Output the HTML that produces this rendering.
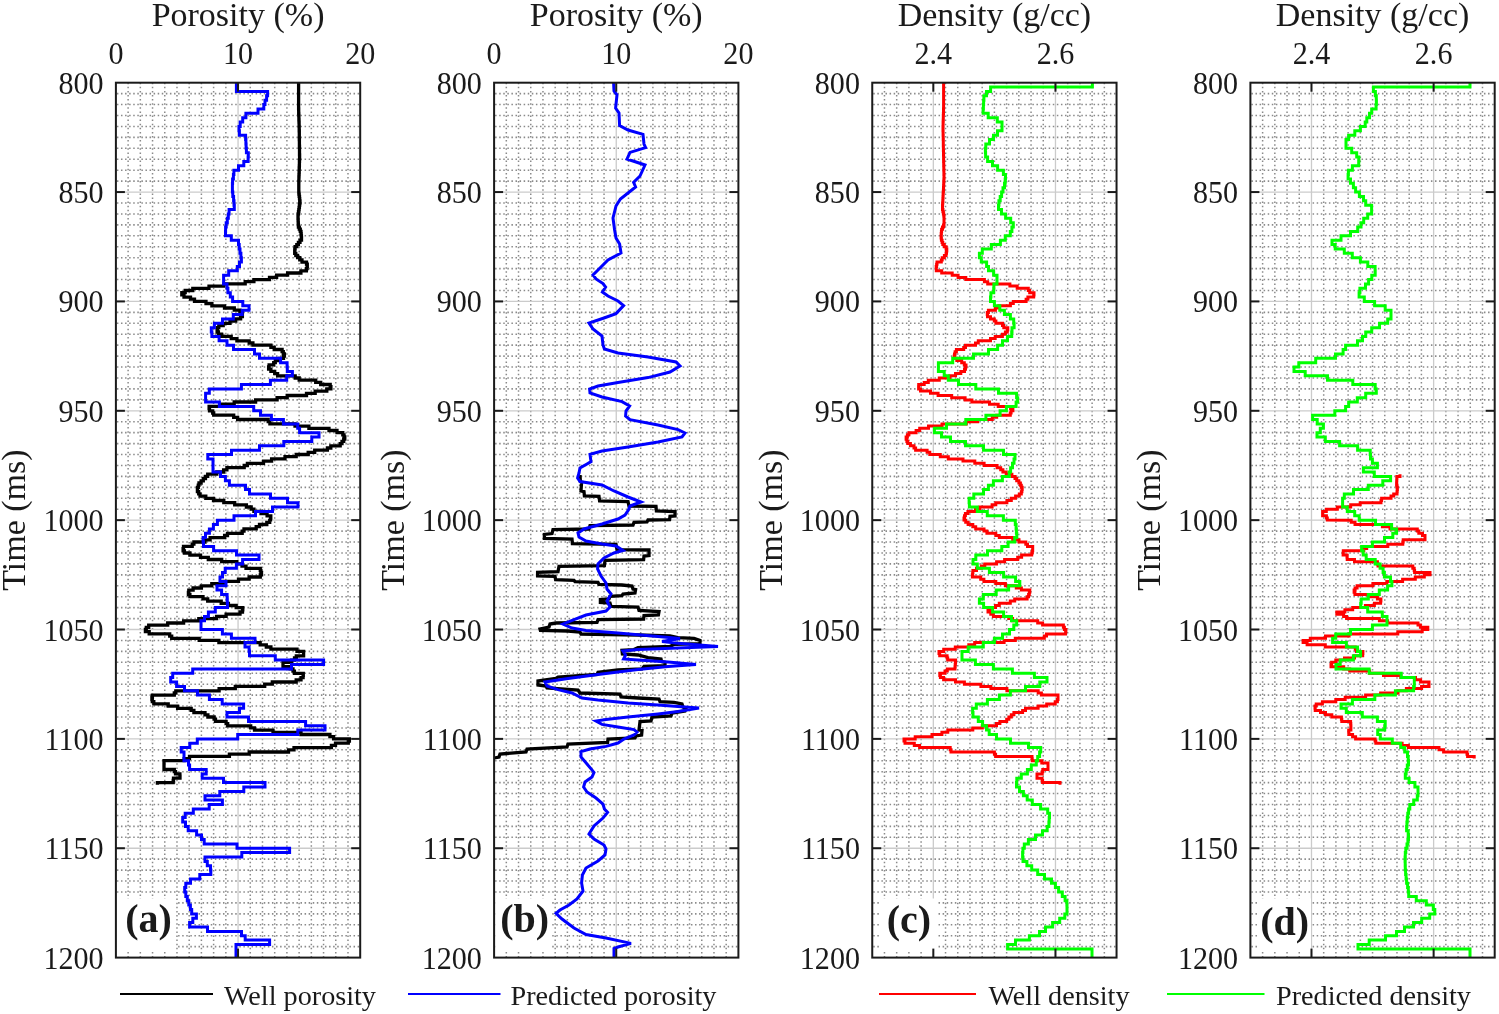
<!DOCTYPE html><html><head><meta charset="utf-8"><title>Figure</title><style>html,body{margin:0;padding:0;background:#fff}svg{display:block}text{font-family:"Liberation Serif",serif;fill:#1a1a1a}</style></head><body>
<svg width="1499" height="1014" viewBox="0 0 1499 1014">
<rect width="1499" height="1014" fill="#fff"/>
<g><line x1="128.12" y1="82.7" x2="128.12" y2="957.6" stroke="#8a8a8a" stroke-width="1.5" stroke-dasharray="1.5 2.6"/><line x1="140.33" y1="82.7" x2="140.33" y2="957.6" stroke="#8a8a8a" stroke-width="1.5" stroke-dasharray="1.5 2.6"/><line x1="152.55" y1="82.7" x2="152.55" y2="957.6" stroke="#8a8a8a" stroke-width="1.5" stroke-dasharray="1.5 2.6"/><line x1="164.76" y1="82.7" x2="164.76" y2="957.6" stroke="#8a8a8a" stroke-width="1.5" stroke-dasharray="1.5 2.6"/><line x1="176.98" y1="82.7" x2="176.98" y2="957.6" stroke="#8a8a8a" stroke-width="1.5" stroke-dasharray="1.5 2.6"/><line x1="189.19" y1="82.7" x2="189.19" y2="957.6" stroke="#8a8a8a" stroke-width="1.5" stroke-dasharray="1.5 2.6"/><line x1="201.41" y1="82.7" x2="201.41" y2="957.6" stroke="#8a8a8a" stroke-width="1.5" stroke-dasharray="1.5 2.6"/><line x1="213.62" y1="82.7" x2="213.62" y2="957.6" stroke="#8a8a8a" stroke-width="1.5" stroke-dasharray="1.5 2.6"/><line x1="225.84" y1="82.7" x2="225.84" y2="957.6" stroke="#8a8a8a" stroke-width="1.5" stroke-dasharray="1.5 2.6"/><line x1="238.05" y1="82.7" x2="238.05" y2="957.6" stroke="#cbcbcb" stroke-width="1.3"/><line x1="250.27" y1="82.7" x2="250.27" y2="957.6" stroke="#8a8a8a" stroke-width="1.5" stroke-dasharray="1.5 2.6"/><line x1="262.48" y1="82.7" x2="262.48" y2="957.6" stroke="#8a8a8a" stroke-width="1.5" stroke-dasharray="1.5 2.6"/><line x1="274.70" y1="82.7" x2="274.70" y2="957.6" stroke="#8a8a8a" stroke-width="1.5" stroke-dasharray="1.5 2.6"/><line x1="286.91" y1="82.7" x2="286.91" y2="957.6" stroke="#8a8a8a" stroke-width="1.5" stroke-dasharray="1.5 2.6"/><line x1="299.12" y1="82.7" x2="299.12" y2="957.6" stroke="#8a8a8a" stroke-width="1.5" stroke-dasharray="1.5 2.6"/><line x1="311.34" y1="82.7" x2="311.34" y2="957.6" stroke="#8a8a8a" stroke-width="1.5" stroke-dasharray="1.5 2.6"/><line x1="323.56" y1="82.7" x2="323.56" y2="957.6" stroke="#8a8a8a" stroke-width="1.5" stroke-dasharray="1.5 2.6"/><line x1="335.77" y1="82.7" x2="335.77" y2="957.6" stroke="#8a8a8a" stroke-width="1.5" stroke-dasharray="1.5 2.6"/><line x1="347.99" y1="82.7" x2="347.99" y2="957.6" stroke="#8a8a8a" stroke-width="1.5" stroke-dasharray="1.5 2.6"/><line x1="116.9" y1="93.64" x2="360.20000000000005" y2="93.64" stroke="#8a8a8a" stroke-width="1.6" stroke-dasharray="1.5 2.58"/><line x1="116.9" y1="104.57" x2="360.20000000000005" y2="104.57" stroke="#8a8a8a" stroke-width="1.6" stroke-dasharray="1.5 2.58"/><line x1="116.9" y1="115.51" x2="360.20000000000005" y2="115.51" stroke="#8a8a8a" stroke-width="1.6" stroke-dasharray="1.5 2.58"/><line x1="116.9" y1="126.44" x2="360.20000000000005" y2="126.44" stroke="#8a8a8a" stroke-width="1.6" stroke-dasharray="1.5 2.58"/><line x1="116.9" y1="137.38" x2="360.20000000000005" y2="137.38" stroke="#8a8a8a" stroke-width="1.6" stroke-dasharray="1.5 2.58"/><line x1="116.9" y1="148.32" x2="360.20000000000005" y2="148.32" stroke="#8a8a8a" stroke-width="1.6" stroke-dasharray="1.5 2.58"/><line x1="116.9" y1="159.25" x2="360.20000000000005" y2="159.25" stroke="#8a8a8a" stroke-width="1.6" stroke-dasharray="1.5 2.58"/><line x1="116.9" y1="170.19" x2="360.20000000000005" y2="170.19" stroke="#8a8a8a" stroke-width="1.6" stroke-dasharray="1.5 2.58"/><line x1="116.9" y1="181.13" x2="360.20000000000005" y2="181.13" stroke="#8a8a8a" stroke-width="1.6" stroke-dasharray="1.5 2.58"/><line x1="115.9" y1="192.06" x2="360.20000000000005" y2="192.06" stroke="#cbcbcb" stroke-width="1.3"/><line x1="116.9" y1="203.00" x2="360.20000000000005" y2="203.00" stroke="#8a8a8a" stroke-width="1.6" stroke-dasharray="1.5 2.58"/><line x1="116.9" y1="213.94" x2="360.20000000000005" y2="213.94" stroke="#8a8a8a" stroke-width="1.6" stroke-dasharray="1.5 2.58"/><line x1="116.9" y1="224.87" x2="360.20000000000005" y2="224.87" stroke="#8a8a8a" stroke-width="1.6" stroke-dasharray="1.5 2.58"/><line x1="116.9" y1="235.81" x2="360.20000000000005" y2="235.81" stroke="#8a8a8a" stroke-width="1.6" stroke-dasharray="1.5 2.58"/><line x1="116.9" y1="246.74" x2="360.20000000000005" y2="246.74" stroke="#8a8a8a" stroke-width="1.6" stroke-dasharray="1.5 2.58"/><line x1="116.9" y1="257.68" x2="360.20000000000005" y2="257.68" stroke="#8a8a8a" stroke-width="1.6" stroke-dasharray="1.5 2.58"/><line x1="116.9" y1="268.62" x2="360.20000000000005" y2="268.62" stroke="#8a8a8a" stroke-width="1.6" stroke-dasharray="1.5 2.58"/><line x1="116.9" y1="279.55" x2="360.20000000000005" y2="279.55" stroke="#8a8a8a" stroke-width="1.6" stroke-dasharray="1.5 2.58"/><line x1="116.9" y1="290.49" x2="360.20000000000005" y2="290.49" stroke="#8a8a8a" stroke-width="1.6" stroke-dasharray="1.5 2.58"/><line x1="115.9" y1="301.43" x2="360.20000000000005" y2="301.43" stroke="#cbcbcb" stroke-width="1.3"/><line x1="116.9" y1="312.36" x2="360.20000000000005" y2="312.36" stroke="#8a8a8a" stroke-width="1.6" stroke-dasharray="1.5 2.58"/><line x1="116.9" y1="323.30" x2="360.20000000000005" y2="323.30" stroke="#8a8a8a" stroke-width="1.6" stroke-dasharray="1.5 2.58"/><line x1="116.9" y1="334.23" x2="360.20000000000005" y2="334.23" stroke="#8a8a8a" stroke-width="1.6" stroke-dasharray="1.5 2.58"/><line x1="116.9" y1="345.17" x2="360.20000000000005" y2="345.17" stroke="#8a8a8a" stroke-width="1.6" stroke-dasharray="1.5 2.58"/><line x1="116.9" y1="356.11" x2="360.20000000000005" y2="356.11" stroke="#8a8a8a" stroke-width="1.6" stroke-dasharray="1.5 2.58"/><line x1="116.9" y1="367.04" x2="360.20000000000005" y2="367.04" stroke="#8a8a8a" stroke-width="1.6" stroke-dasharray="1.5 2.58"/><line x1="116.9" y1="377.98" x2="360.20000000000005" y2="377.98" stroke="#8a8a8a" stroke-width="1.6" stroke-dasharray="1.5 2.58"/><line x1="116.9" y1="388.92" x2="360.20000000000005" y2="388.92" stroke="#8a8a8a" stroke-width="1.6" stroke-dasharray="1.5 2.58"/><line x1="116.9" y1="399.85" x2="360.20000000000005" y2="399.85" stroke="#8a8a8a" stroke-width="1.6" stroke-dasharray="1.5 2.58"/><line x1="115.9" y1="410.79" x2="360.20000000000005" y2="410.79" stroke="#cbcbcb" stroke-width="1.3"/><line x1="116.9" y1="421.72" x2="360.20000000000005" y2="421.72" stroke="#8a8a8a" stroke-width="1.6" stroke-dasharray="1.5 2.58"/><line x1="116.9" y1="432.66" x2="360.20000000000005" y2="432.66" stroke="#8a8a8a" stroke-width="1.6" stroke-dasharray="1.5 2.58"/><line x1="116.9" y1="443.60" x2="360.20000000000005" y2="443.60" stroke="#8a8a8a" stroke-width="1.6" stroke-dasharray="1.5 2.58"/><line x1="116.9" y1="454.53" x2="360.20000000000005" y2="454.53" stroke="#8a8a8a" stroke-width="1.6" stroke-dasharray="1.5 2.58"/><line x1="116.9" y1="465.47" x2="360.20000000000005" y2="465.47" stroke="#8a8a8a" stroke-width="1.6" stroke-dasharray="1.5 2.58"/><line x1="116.9" y1="476.40" x2="360.20000000000005" y2="476.40" stroke="#8a8a8a" stroke-width="1.6" stroke-dasharray="1.5 2.58"/><line x1="116.9" y1="487.34" x2="360.20000000000005" y2="487.34" stroke="#8a8a8a" stroke-width="1.6" stroke-dasharray="1.5 2.58"/><line x1="116.9" y1="498.28" x2="360.20000000000005" y2="498.28" stroke="#8a8a8a" stroke-width="1.6" stroke-dasharray="1.5 2.58"/><line x1="116.9" y1="509.21" x2="360.20000000000005" y2="509.21" stroke="#8a8a8a" stroke-width="1.6" stroke-dasharray="1.5 2.58"/><line x1="115.9" y1="520.15" x2="360.20000000000005" y2="520.15" stroke="#cbcbcb" stroke-width="1.3"/><line x1="116.9" y1="531.09" x2="360.20000000000005" y2="531.09" stroke="#8a8a8a" stroke-width="1.6" stroke-dasharray="1.5 2.58"/><line x1="116.9" y1="542.02" x2="360.20000000000005" y2="542.02" stroke="#8a8a8a" stroke-width="1.6" stroke-dasharray="1.5 2.58"/><line x1="116.9" y1="552.96" x2="360.20000000000005" y2="552.96" stroke="#8a8a8a" stroke-width="1.6" stroke-dasharray="1.5 2.58"/><line x1="116.9" y1="563.89" x2="360.20000000000005" y2="563.89" stroke="#8a8a8a" stroke-width="1.6" stroke-dasharray="1.5 2.58"/><line x1="116.9" y1="574.83" x2="360.20000000000005" y2="574.83" stroke="#8a8a8a" stroke-width="1.6" stroke-dasharray="1.5 2.58"/><line x1="116.9" y1="585.77" x2="360.20000000000005" y2="585.77" stroke="#8a8a8a" stroke-width="1.6" stroke-dasharray="1.5 2.58"/><line x1="116.9" y1="596.70" x2="360.20000000000005" y2="596.70" stroke="#8a8a8a" stroke-width="1.6" stroke-dasharray="1.5 2.58"/><line x1="116.9" y1="607.64" x2="360.20000000000005" y2="607.64" stroke="#8a8a8a" stroke-width="1.6" stroke-dasharray="1.5 2.58"/><line x1="116.9" y1="618.58" x2="360.20000000000005" y2="618.58" stroke="#8a8a8a" stroke-width="1.6" stroke-dasharray="1.5 2.58"/><line x1="115.9" y1="629.51" x2="360.20000000000005" y2="629.51" stroke="#cbcbcb" stroke-width="1.3"/><line x1="116.9" y1="640.45" x2="360.20000000000005" y2="640.45" stroke="#8a8a8a" stroke-width="1.6" stroke-dasharray="1.5 2.58"/><line x1="116.9" y1="651.38" x2="360.20000000000005" y2="651.38" stroke="#8a8a8a" stroke-width="1.6" stroke-dasharray="1.5 2.58"/><line x1="116.9" y1="662.32" x2="360.20000000000005" y2="662.32" stroke="#8a8a8a" stroke-width="1.6" stroke-dasharray="1.5 2.58"/><line x1="116.9" y1="673.26" x2="360.20000000000005" y2="673.26" stroke="#8a8a8a" stroke-width="1.6" stroke-dasharray="1.5 2.58"/><line x1="116.9" y1="684.19" x2="360.20000000000005" y2="684.19" stroke="#8a8a8a" stroke-width="1.6" stroke-dasharray="1.5 2.58"/><line x1="116.9" y1="695.13" x2="360.20000000000005" y2="695.13" stroke="#8a8a8a" stroke-width="1.6" stroke-dasharray="1.5 2.58"/><line x1="116.9" y1="706.07" x2="360.20000000000005" y2="706.07" stroke="#8a8a8a" stroke-width="1.6" stroke-dasharray="1.5 2.58"/><line x1="116.9" y1="717.00" x2="360.20000000000005" y2="717.00" stroke="#8a8a8a" stroke-width="1.6" stroke-dasharray="1.5 2.58"/><line x1="116.9" y1="727.94" x2="360.20000000000005" y2="727.94" stroke="#8a8a8a" stroke-width="1.6" stroke-dasharray="1.5 2.58"/><line x1="115.9" y1="738.88" x2="360.20000000000005" y2="738.88" stroke="#cbcbcb" stroke-width="1.3"/><line x1="116.9" y1="749.81" x2="360.20000000000005" y2="749.81" stroke="#8a8a8a" stroke-width="1.6" stroke-dasharray="1.5 2.58"/><line x1="116.9" y1="760.75" x2="360.20000000000005" y2="760.75" stroke="#8a8a8a" stroke-width="1.6" stroke-dasharray="1.5 2.58"/><line x1="116.9" y1="771.68" x2="360.20000000000005" y2="771.68" stroke="#8a8a8a" stroke-width="1.6" stroke-dasharray="1.5 2.58"/><line x1="116.9" y1="782.62" x2="360.20000000000005" y2="782.62" stroke="#8a8a8a" stroke-width="1.6" stroke-dasharray="1.5 2.58"/><line x1="116.9" y1="793.56" x2="360.20000000000005" y2="793.56" stroke="#8a8a8a" stroke-width="1.6" stroke-dasharray="1.5 2.58"/><line x1="116.9" y1="804.49" x2="360.20000000000005" y2="804.49" stroke="#8a8a8a" stroke-width="1.6" stroke-dasharray="1.5 2.58"/><line x1="116.9" y1="815.43" x2="360.20000000000005" y2="815.43" stroke="#8a8a8a" stroke-width="1.6" stroke-dasharray="1.5 2.58"/><line x1="116.9" y1="826.37" x2="360.20000000000005" y2="826.37" stroke="#8a8a8a" stroke-width="1.6" stroke-dasharray="1.5 2.58"/><line x1="116.9" y1="837.30" x2="360.20000000000005" y2="837.30" stroke="#8a8a8a" stroke-width="1.6" stroke-dasharray="1.5 2.58"/><line x1="115.9" y1="848.24" x2="360.20000000000005" y2="848.24" stroke="#cbcbcb" stroke-width="1.3"/><line x1="116.9" y1="859.17" x2="360.20000000000005" y2="859.17" stroke="#8a8a8a" stroke-width="1.6" stroke-dasharray="1.5 2.58"/><line x1="116.9" y1="870.11" x2="360.20000000000005" y2="870.11" stroke="#8a8a8a" stroke-width="1.6" stroke-dasharray="1.5 2.58"/><line x1="116.9" y1="881.05" x2="360.20000000000005" y2="881.05" stroke="#8a8a8a" stroke-width="1.6" stroke-dasharray="1.5 2.58"/><line x1="116.9" y1="891.98" x2="360.20000000000005" y2="891.98" stroke="#8a8a8a" stroke-width="1.6" stroke-dasharray="1.5 2.58"/><line x1="116.9" y1="902.92" x2="360.20000000000005" y2="902.92" stroke="#8a8a8a" stroke-width="1.6" stroke-dasharray="1.5 2.58"/><line x1="116.9" y1="913.86" x2="360.20000000000005" y2="913.86" stroke="#8a8a8a" stroke-width="1.6" stroke-dasharray="1.5 2.58"/><line x1="116.9" y1="924.79" x2="360.20000000000005" y2="924.79" stroke="#8a8a8a" stroke-width="1.6" stroke-dasharray="1.5 2.58"/><line x1="116.9" y1="935.73" x2="360.20000000000005" y2="935.73" stroke="#8a8a8a" stroke-width="1.6" stroke-dasharray="1.5 2.58"/><line x1="116.9" y1="946.66" x2="360.20000000000005" y2="946.66" stroke="#8a8a8a" stroke-width="1.6" stroke-dasharray="1.5 2.58"/></g>
<rect x="117" y="898.5" width="59" height="52.2" fill="#fff"/>
<path d="M298.6 82.7 L298.6 84.9 L298.6 84.9 L298.6 87.1 L298.6 87.1 L298.6 89.3 L298.6 89.3 L298.6 91.4 L298.6 91.4 L298.6 93.6 L298.6 93.6 L298.6 95.8 L298.6 95.8 L298.6 98.0 L298.6 98.0 L298.6 100.2 L298.6 100.2 L298.6 102.4 L298.6 102.4 L298.6 104.6 L298.6 104.6 L298.6 106.8 L298.6 106.8 L298.6 108.9 L298.7 108.9 L298.7 111.1 L298.7 111.1 L298.7 113.3 L298.8 113.3 L298.8 115.5 L298.9 115.5 L298.9 117.7 L298.9 117.7 L298.9 119.9 L299.0 119.9 L299.0 122.1 L299.1 122.1 L299.1 124.3 L299.1 124.3 L299.1 126.4 L299.2 126.4 L299.2 128.6 L299.2 128.6 L299.2 130.8 L299.3 130.8 L299.3 133.0 L299.3 133.0 L299.3 135.2 L299.3 135.2 L299.3 137.4 L299.3 137.4 L299.3 139.6 L299.4 139.6 L299.4 141.8 L299.4 141.8 L299.4 143.9 L299.4 143.9 L299.4 146.1 L299.5 146.1 L299.5 148.3 L299.5 148.3 L299.5 150.5 L299.5 150.5 L299.5 152.7 L299.5 152.7 L299.5 154.9 L299.6 154.9 L299.6 157.1 L299.6 157.1 L299.6 159.3 L299.5 159.3 L299.5 161.4 L299.4 161.4 L299.4 163.6 L299.4 163.6 L299.4 165.8 L299.3 165.8 L299.3 168.0 L299.2 168.0 L299.2 170.2 L299.2 170.2 L299.2 172.4 L299.1 172.4 L299.1 174.6 L299.0 174.6 L299.0 176.8 L298.9 176.8 L298.9 178.9 L298.9 178.9 L298.9 181.1 L298.8 181.1 L298.8 183.3 L298.8 183.3 L298.8 185.5 L298.8 185.5 L298.8 187.7 L298.8 187.7 L298.8 189.9 L298.8 189.9 L298.8 192.1 L298.9 192.1 L298.9 194.2 L299.2 194.2 L299.2 196.4 L299.5 196.4 L299.5 198.6 L299.7 198.6 L299.7 200.8 L300.0 200.8 L300.0 203.0 L299.7 203.0 L299.7 205.2 L299.4 205.2 L299.4 207.4 L299.1 207.4 L299.1 209.6 L298.8 209.6 L298.8 211.7 L298.5 211.7 L298.5 213.9 L298.1 213.9 L298.1 216.1 L298.0 216.1 L298.0 218.3 L298.1 218.3 L298.1 220.5 L298.2 220.5 L298.2 222.7 L298.3 222.7 L298.3 224.9 L298.4 224.9 L298.4 227.1 L299.3 227.1 L299.3 229.2 L300.3 229.2 L300.3 231.4 L301.0 231.4 L301.0 233.6 L301.2 233.6 L301.2 235.8 L301.4 235.8 L301.4 238.0 L301.5 238.0 L301.5 240.2 L300.0 240.2 L300.0 242.4 L298.4 242.4 L298.4 244.6 L296.8 244.6 L296.8 246.7 L295.1 246.7 L295.1 248.9 L294.8 248.9 L294.8 251.1 L294.7 251.1 L294.7 253.3 L295.8 253.3 L295.8 255.5 L297.6 255.5 L297.6 257.7 L299.8 257.7 L299.8 259.9 L302.0 259.9 L302.0 262.1 L306.5 262.1 L306.5 264.2 L307.3 264.2 L307.3 266.4 L307.1 266.4 L307.1 268.6 L306.4 268.6 L306.4 270.8 L300.9 270.8 L300.9 273.0 L287.6 273.0 L287.6 275.2 L276.6 275.2 L276.6 277.4 L269.5 277.4 L269.5 279.6 L253.9 279.6 L253.9 281.7 L245.2 281.7 L245.2 283.9 L223.9 283.9 L223.9 286.1 L209.0 286.1 L209.0 288.3 L192.8 288.3 L192.8 290.5 L185.2 290.5 L185.2 292.7 L181.8 292.7 L181.8 294.9 L184.0 294.9 L184.0 297.1 L190.5 297.1 L190.5 299.2 L194.5 299.2 L194.5 301.4 L206.0 301.4 L206.0 303.6 L211.9 303.6 L211.9 305.8 L224.5 305.8 L224.5 308.0 L234.3 308.0 L234.3 310.2 L239.9 310.2 L239.9 312.4 L242.4 312.4 L242.4 314.5 L242.4 314.5 L242.4 316.7 L240.6 316.7 L240.6 318.9 L235.7 318.9 L235.7 321.1 L230.0 321.1 L230.0 323.3 L223.2 323.3 L223.2 325.5 L218.8 325.5 L218.8 327.7 L217.6 327.7 L217.6 329.9 L217.1 329.9 L217.1 332.0 L218.4 332.0 L218.4 334.2 L221.6 334.2 L221.6 336.4 L231.2 336.4 L231.2 338.6 L236.9 338.6 L236.9 340.8 L249.2 340.8 L249.2 343.0 L252.9 343.0 L252.9 345.2 L270.9 345.2 L270.9 347.4 L274.2 347.4 L274.2 349.5 L282.1 349.5 L282.1 351.7 L283.3 351.7 L283.3 353.9 L284.4 353.9 L284.4 356.1 L283.5 356.1 L283.5 358.3 L279.5 358.3 L279.5 360.5 L275.3 360.5 L275.3 362.7 L273.7 362.7 L273.7 364.9 L269.1 364.9 L269.1 367.0 L268.6 367.0 L268.6 369.2 L270.9 369.2 L270.9 371.4 L274.7 371.4 L274.7 373.6 L277.6 373.6 L277.6 375.8 L295.2 375.8 L295.2 378.0 L299.2 378.0 L299.2 380.2 L315.7 380.2 L315.7 382.4 L320.7 382.4 L320.7 384.5 L330.2 384.5 L330.2 386.7 L330.9 386.7 L330.9 388.9 L326.8 388.9 L326.8 391.1 L315.2 391.1 L315.2 393.3 L306.5 393.3 L306.5 395.5 L287.2 395.5 L287.2 397.7 L277.1 397.7 L277.1 399.9 L255.6 399.9 L255.6 402.0 L234.2 402.0 L234.2 404.2 L220.8 404.2 L220.8 406.4 L209.1 406.4 L209.1 408.6 L209.5 408.6 L209.5 410.8 L212.7 410.8 L212.7 413.0 L213.7 413.0 L213.7 415.2 L233.7 415.2 L233.7 417.3 L237.6 417.3 L237.6 419.5 L268.2 419.5 L268.2 421.7 L269.9 421.7 L269.9 423.9 L295.0 423.9 L295.0 426.1 L308.9 426.1 L308.9 428.3 L329.0 428.3 L329.0 430.5 L337.0 430.5 L337.0 432.7 L342.8 432.7 L342.8 434.8 L344.0 434.8 L344.0 437.0 L344.8 437.0 L344.8 439.2 L343.7 439.2 L343.7 441.4 L342.0 441.4 L342.0 443.6 L340.2 443.6 L340.2 445.8 L330.8 445.8 L330.8 448.0 L327.4 448.0 L327.4 450.2 L314.7 450.2 L314.7 452.3 L308.2 452.3 L308.2 454.5 L296.2 454.5 L296.2 456.7 L285.0 456.7 L285.0 458.9 L271.6 458.9 L271.6 461.1 L263.5 461.1 L263.5 463.3 L247.4 463.3 L247.4 465.5 L244.2 465.5 L244.2 467.7 L226.9 467.7 L226.9 469.8 L223.6 469.8 L223.6 472.0 L216.8 472.0 L216.8 474.2 L207.7 474.2 L207.7 476.4 L205.5 476.4 L205.5 478.6 L203.3 478.6 L203.3 480.8 L201.1 480.8 L201.1 483.0 L199.0 483.0 L199.0 485.2 L198.3 485.2 L198.3 487.3 L197.5 487.3 L197.5 489.5 L197.4 489.5 L197.4 491.7 L198.7 491.7 L198.7 493.9 L200.0 493.9 L200.0 496.1 L205.8 496.1 L205.8 498.3 L213.5 498.3 L213.5 500.5 L223.8 500.5 L223.8 502.7 L234.7 502.7 L234.7 504.8 L246.4 504.8 L246.4 507.0 L251.2 507.0 L251.2 509.2 L253.9 509.2 L253.9 511.4 L261.0 511.4 L261.0 513.6 L267.1 513.6 L267.1 515.8 L270.8 515.8 L270.8 518.0 L270.5 518.0 L270.5 520.1 L269.7 520.2 L269.7 522.3 L266.8 522.3 L266.8 524.5 L259.5 524.5 L259.5 526.7 L256.2 526.7 L256.2 528.9 L244.0 528.9 L244.0 531.1 L242.2 531.1 L242.2 533.3 L227.5 533.3 L227.5 535.5 L224.6 535.5 L224.6 537.6 L210.1 537.6 L210.1 539.8 L205.0 539.8 L205.0 542.0 L193.9 542.0 L193.9 544.2 L192.2 544.2 L192.2 546.4 L183.5 546.4 L183.5 548.6 L183.1 548.6 L183.1 550.8 L184.4 550.8 L184.4 553.0 L189.9 553.0 L189.9 555.1 L200.5 555.1 L200.5 557.3 L208.3 557.3 L208.3 559.5 L221.7 559.5 L221.7 561.7 L236.8 561.7 L236.8 563.9 L242.0 563.9 L242.0 566.1 L246.0 566.1 L246.0 568.3 L260.3 568.3 L260.3 570.5 L260.9 570.5 L260.9 572.6 L261.5 572.6 L261.5 574.8 L260.3 574.8 L260.3 577.0 L249.1 577.0 L249.1 579.2 L238.5 579.2 L238.5 581.4 L223.8 581.4 L223.8 583.6 L211.8 583.6 L211.8 585.8 L201.4 585.8 L201.4 588.0 L193.1 588.0 L193.1 590.1 L188.8 590.1 L188.8 592.3 L188.4 592.3 L188.4 594.5 L189.9 594.5 L189.9 596.7 L203.0 596.7 L203.0 598.9 L207.7 598.9 L207.7 601.1 L221.2 601.1 L221.2 603.3 L228.4 603.3 L228.4 605.5 L236.2 605.5 L236.2 607.6 L242.8 607.6 L242.8 609.8 L242.5 609.8 L242.5 612.0 L240.0 612.0 L240.0 614.2 L226.1 614.2 L226.1 616.4 L216.6 616.4 L216.6 618.6 L198.8 618.6 L198.8 620.8 L183.6 620.8 L183.6 623.0 L167.7 623.0 L167.7 625.1 L148.7 625.1 L148.7 627.3 L146.3 627.3 L146.3 629.5 L145.4 629.5 L145.4 631.7 L149.2 631.7 L149.2 633.9 L169.7 633.9 L169.7 636.1 L171.7 636.1 L171.7 638.3 L199.2 638.3 L199.2 640.4 L218.9 640.4 L218.9 642.6 L260.2 642.6 L260.2 644.8 L266.3 644.8 L266.3 647.0 L270.9 647.0 L270.9 649.2 L297.0 649.2 L297.0 651.4 L303.6 651.4 L303.6 653.6 L303.6 653.6 L303.6 655.8 L296.3 655.8 L296.3 657.9 L294.5 657.9 L294.5 660.1 L291.5 660.1 L291.5 662.3 L283.0 662.3 L283.0 664.5 L283.0 664.5 L283.0 666.7 L290.1 666.7 L290.1 668.9 L293.0 668.9 L293.0 671.1 L294.4 671.1 L294.4 673.3 L303.3 673.3 L303.3 675.4 L303.1 675.4 L303.1 677.6 L301.0 677.6 L301.0 679.8 L296.2 679.8 L296.2 682.0 L272.3 682.0 L272.3 684.2 L264.7 684.2 L264.7 686.4 L235.3 686.4 L235.3 688.6 L219.1 688.6 L219.1 690.8 L175.8 690.8 L175.8 692.9 L174.3 692.9 L174.3 695.1 L152.4 695.1 L152.4 697.3 L151.9 697.3 L151.9 699.5 L152.3 699.5 L152.3 701.7 L153.8 701.7 L153.8 703.9 L168.2 703.9 L168.2 706.1 L177.6 706.1 L177.6 708.3 L191.2 708.3 L191.2 710.4 L193.9 710.4 L193.9 712.6 L205.0 712.6 L205.0 714.8 L207.9 714.8 L207.9 717.0 L214.1 717.0 L214.1 719.2 L215.5 719.2 L215.5 721.4 L226.1 721.4 L226.1 723.6 L227.7 723.6 L227.7 725.8 L250.7 725.8 L250.7 727.9 L254.5 727.9 L254.5 730.1 L273.0 730.1 L273.0 732.3 L301.0 732.3 L301.0 734.5 L329.9 734.5 L329.9 736.7 L333.6 736.7 L333.6 738.9 L349.4 738.9 L349.4 741.1 L348.3 741.1 L348.3 743.2 L335.5 743.2 L335.5 745.4 L331.4 745.4 L331.4 747.6 L294.0 747.6 L294.0 749.8 L288.5 749.8 L288.5 752.0 L249.2 752.0 L249.2 754.2 L229.4 754.2 L229.4 756.4 L189.5 756.4 L189.5 758.6 L184.2 758.6 L184.2 760.7 L164.0 760.7 L164.0 762.9 L164.0 762.9 L164.0 765.1 L164.0 765.1 L164.0 767.3 L164.0 767.3 L164.0 769.5 L174.3 769.5 L174.3 771.7 L175.5 771.7 L175.5 773.9 L179.9 773.9 L179.9 776.1 L180.0 776.1 L180.0 778.2 L173.5 778.2 L173.5 780.4 L173.2 780.4 L173.2 782.6 L157.4 782.6 L157.4 784.8" fill="none" stroke="#000" stroke-width="3.3" stroke-linejoin="miter"/>
<path d="M236.4 82.7 L236.4 87.1 L236.4 87.1 L236.4 91.4 L267.6 91.4 L267.6 95.8 L266.6 95.8 L266.6 100.2 L265.0 100.2 L265.0 104.6 L263.8 104.6 L263.8 108.9 L258.0 108.9 L258.0 113.3 L245.9 113.3 L245.9 117.7 L242.7 117.7 L242.7 122.1 L240.2 122.1 L240.2 126.4 L239.0 126.4 L239.0 130.8 L239.4 130.8 L239.4 135.2 L245.6 135.2 L245.6 139.6 L245.9 139.6 L245.9 143.9 L246.1 143.9 L246.1 148.3 L246.4 148.3 L246.4 152.7 L248.3 152.7 L248.3 157.1 L248.1 157.1 L248.1 161.4 L243.8 161.4 L243.8 165.8 L238.5 165.8 L238.5 170.2 L233.9 170.2 L233.9 174.6 L233.4 174.6 L233.4 178.9 L232.6 178.9 L232.6 183.3 L232.4 183.3 L232.4 187.7 L232.4 187.7 L232.4 192.1 L232.8 192.1 L232.8 196.4 L233.6 196.4 L233.6 200.8 L234.0 200.8 L234.0 205.2 L234.3 205.2 L234.3 209.6 L229.1 209.6 L229.1 213.9 L228.3 213.9 L228.3 218.3 L227.3 218.3 L227.3 222.7 L226.2 222.7 L226.2 227.1 L225.6 227.1 L225.6 231.4 L225.5 231.4 L225.5 235.8 L231.3 235.8 L231.3 240.2 L238.5 240.2 L238.5 244.6 L239.2 244.6 L239.2 248.9 L240.0 248.9 L240.0 253.3 L240.9 253.3 L240.9 257.7 L241.4 257.7 L241.4 262.1 L239.5 262.1 L239.5 266.4 L237.3 266.4 L237.3 270.8 L228.7 270.8 L228.7 275.2 L223.6 275.2 L223.6 279.6 L223.6 279.6 L223.6 283.9 L227.0 283.9 L227.0 288.3 L227.9 288.3 L227.9 292.7 L230.3 292.7 L230.3 297.1 L232.6 297.1 L232.6 301.4 L242.8 301.4 L242.8 305.8 L249.0 305.8 L249.0 310.2 L242.2 310.2 L242.2 314.5 L233.3 314.5 L233.3 318.9 L222.5 318.9 L222.5 323.3 L214.4 323.3 L214.4 327.7 L211.3 327.7 L211.3 332.0 L211.9 332.0 L211.9 336.4 L219.1 336.4 L219.1 340.8 L227.0 340.8 L227.0 345.2 L233.5 345.2 L233.5 349.5 L254.5 349.5 L254.5 353.9 L259.5 353.9 L259.5 358.3 L280.6 358.3 L280.6 362.7 L287.1 362.7 L287.1 367.0 L287.3 367.0 L287.3 371.4 L292.4 371.4 L292.4 375.8 L286.7 375.8 L286.7 380.2 L270.4 380.2 L270.4 384.5 L241.4 384.5 L241.4 388.9 L209.3 388.9 L209.3 393.3 L205.6 393.3 L205.6 397.7 L205.6 397.7 L205.6 402.0 L219.4 402.0 L219.4 406.4 L253.7 406.4 L253.7 410.8 L260.5 410.8 L260.5 415.2 L271.4 415.2 L271.4 419.5 L283.4 419.5 L283.4 423.9 L297.7 423.9 L297.7 428.3 L299.6 428.3 L299.6 432.7 L319.0 432.7 L319.0 437.0 L311.8 437.0 L311.8 441.4 L283.8 441.4 L283.8 445.8 L259.5 445.8 L259.5 450.2 L231.5 450.2 L231.5 454.5 L207.8 454.5 L207.8 458.9 L213.0 458.9 L213.0 463.3 L213.0 463.3 L213.0 467.7 L213.0 467.7 L213.0 472.0 L220.5 472.0 L220.5 476.4 L225.4 476.4 L225.4 480.8 L229.4 480.8 L229.4 485.2 L245.5 485.2 L245.5 489.5 L249.5 489.5 L249.5 493.9 L270.5 493.9 L270.5 498.3 L287.5 498.3 L287.5 502.7 L298.0 502.7 L298.0 507.0 L272.5 507.0 L272.5 511.4 L255.5 511.4 L255.5 515.8 L234.0 515.8 L234.0 520.2 L217.4 520.2 L217.4 524.5 L213.4 524.5 L213.4 528.9 L209.4 528.9 L209.4 533.3 L205.5 533.3 L205.5 537.6 L203.1 537.6 L203.1 542.0 L203.5 542.0 L203.5 546.4 L213.6 546.4 L213.6 550.8 L236.5 550.8 L236.5 555.1 L259.0 555.1 L259.0 559.5 L242.6 559.5 L242.6 563.9 L236.4 563.9 L236.4 568.3 L225.2 568.3 L225.2 572.6 L222.5 572.6 L222.5 577.0 L220.0 577.0 L220.0 581.4 L226.0 581.4 L226.0 585.8 L217.0 585.8 L217.0 590.1 L221.6 590.1 L221.6 594.5 L227.1 594.5 L227.1 598.9 L227.3 598.9 L227.3 603.3 L227.5 603.3 L227.5 607.6 L215.3 607.6 L215.3 612.0 L208.4 612.0 L208.4 616.4 L204.5 616.4 L204.5 620.8 L201.0 620.8 L201.0 625.1 L201.0 625.1 L201.0 629.5 L222.4 629.5 L222.4 633.9 L231.4 633.9 L231.4 638.3 L255.0 638.3 L255.0 642.6 L245.0 642.6 L245.0 647.0 L249.1 647.0 L249.1 651.4 L249.5 651.4 L249.5 655.8 L275.3 655.8 L275.3 660.1 L323.6 660.1 L323.6 664.5 L291.5 664.5 L291.5 668.9 L192.7 668.9 L192.7 673.3 L172.7 673.3 L172.7 677.6 L170.7 677.6 L170.7 682.0 L176.6 682.0 L176.6 686.4 L184.5 686.4 L184.5 690.8 L197.5 690.8 L197.5 695.1 L209.4 695.1 L209.4 699.5 L222.2 699.5 L222.2 703.9 L243.6 703.9 L243.6 708.3 L239.5 708.3 L239.5 712.6 L227.0 712.6 L227.0 717.0 L248.5 717.0 L248.5 721.4 L305.6 721.4 L305.6 725.8 L325.0 725.8 L325.0 730.1 L297.8 730.1 L297.8 734.5 L237.7 734.5 L237.7 738.9 L197.3 738.9 L197.3 743.2 L189.8 743.2 L189.8 747.6 L181.2 747.6 L181.2 752.0 L184.0 752.0 L184.0 756.4 L184.0 756.4 L184.0 760.7 L188.5 760.7 L188.5 765.1 L189.6 765.1 L189.6 769.5 L206.2 769.5 L206.2 773.9 L202.2 773.9 L202.2 778.2 L223.5 778.2 L223.5 782.6 L265.0 782.6 L265.0 787.0 L243.8 787.0 L243.8 791.4 L219.8 791.4 L219.8 795.7 L205.0 795.7 L205.0 800.1 L222.4 800.1 L222.4 804.5 L209.2 804.5 L209.2 808.9 L193.3 808.9 L193.3 813.2 L185.2 813.2 L185.2 817.6 L182.7 817.6 L182.7 822.0 L185.5 822.0 L185.5 826.4 L188.2 826.4 L188.2 830.7 L196.6 830.7 L196.6 835.1 L201.5 835.1 L201.5 839.5 L204.2 839.5 L204.2 843.9 L237.0 843.9 L237.0 848.2 L289.6 848.2 L289.6 852.6 L241.8 852.6 L241.8 857.0 L205.0 857.0 L205.0 861.4 L207.3 861.4 L207.3 865.7 L210.5 865.7 L210.5 870.1 L210.8 870.1 L210.8 874.5 L199.8 874.5 L199.8 878.9 L190.5 878.9 L190.5 883.2 L185.8 883.2 L185.8 887.6 L184.7 887.6 L184.7 892.0 L185.8 892.0 L185.8 896.4 L187.3 896.4 L187.3 900.7 L188.8 900.7 L188.8 905.1 L190.4 905.1 L190.4 909.5 L191.7 909.5 L191.7 913.9 L196.4 913.9 L196.4 918.2 L192.8 918.2 L192.8 922.6 L189.6 922.6 L189.6 927.0 L207.5 927.0 L207.5 931.4 L241.5 931.4 L241.5 935.7 L245.2 935.7 L245.2 940.1 L269.6 940.1 L269.6 944.5 L236.0 944.5 L236.0 948.9 L236.0 948.9 L236.0 953.2 L236.0 953.2 L236.0 957.6" fill="none" stroke="#0000ff" stroke-width="3.0" stroke-linejoin="miter"/>
<g><line x1="115.9" y1="192.06" x2="124.9" y2="192.06" stroke="#1a1a1a" stroke-width="2"/><line x1="351.20000000000005" y1="192.06" x2="360.20000000000005" y2="192.06" stroke="#1a1a1a" stroke-width="2"/><line x1="115.9" y1="301.43" x2="124.9" y2="301.43" stroke="#1a1a1a" stroke-width="2"/><line x1="351.20000000000005" y1="301.43" x2="360.20000000000005" y2="301.43" stroke="#1a1a1a" stroke-width="2"/><line x1="115.9" y1="410.79" x2="124.9" y2="410.79" stroke="#1a1a1a" stroke-width="2"/><line x1="351.20000000000005" y1="410.79" x2="360.20000000000005" y2="410.79" stroke="#1a1a1a" stroke-width="2"/><line x1="115.9" y1="520.15" x2="124.9" y2="520.15" stroke="#1a1a1a" stroke-width="2"/><line x1="351.20000000000005" y1="520.15" x2="360.20000000000005" y2="520.15" stroke="#1a1a1a" stroke-width="2"/><line x1="115.9" y1="629.51" x2="124.9" y2="629.51" stroke="#1a1a1a" stroke-width="2"/><line x1="351.20000000000005" y1="629.51" x2="360.20000000000005" y2="629.51" stroke="#1a1a1a" stroke-width="2"/><line x1="115.9" y1="738.88" x2="124.9" y2="738.88" stroke="#1a1a1a" stroke-width="2"/><line x1="351.20000000000005" y1="738.88" x2="360.20000000000005" y2="738.88" stroke="#1a1a1a" stroke-width="2"/><line x1="115.9" y1="848.24" x2="124.9" y2="848.24" stroke="#1a1a1a" stroke-width="2"/><line x1="351.20000000000005" y1="848.24" x2="360.20000000000005" y2="848.24" stroke="#1a1a1a" stroke-width="2"/><line x1="238.05" y1="82.7" x2="238.05" y2="91.7" stroke="#1a1a1a" stroke-width="2"/><line x1="238.05" y1="948.6" x2="238.05" y2="957.6" stroke="#1a1a1a" stroke-width="2"/></g>
<rect x="115.9" y="82.7" width="244.3" height="874.9" fill="none" stroke="#1a1a1a" stroke-width="2"/>
<text transform="translate(103.60 93.70) scale(0.94 1)" font-size="32" text-anchor="end">800</text>
<text transform="translate(103.60 203.06) scale(0.94 1)" font-size="32" text-anchor="end">850</text>
<text transform="translate(103.60 312.43) scale(0.94 1)" font-size="32" text-anchor="end">900</text>
<text transform="translate(103.60 421.79) scale(0.94 1)" font-size="32" text-anchor="end">950</text>
<text transform="translate(103.60 531.15) scale(0.94 1)" font-size="32" text-anchor="end">1000</text>
<text transform="translate(103.60 640.51) scale(0.94 1)" font-size="32" text-anchor="end">1050</text>
<text transform="translate(103.60 749.88) scale(0.94 1)" font-size="32" text-anchor="end">1100</text>
<text transform="translate(103.60 859.24) scale(0.94 1)" font-size="32" text-anchor="end">1150</text>
<text transform="translate(103.60 968.60) scale(0.94 1)" font-size="32" text-anchor="end">1200</text>
<text transform="translate(115.90 64.4) scale(0.94 1)" font-size="32" text-anchor="middle">0</text>
<text transform="translate(238.05 64.4) scale(0.94 1)" font-size="32" text-anchor="middle">10</text>
<text transform="translate(360.20 64.4) scale(0.94 1)" font-size="32" text-anchor="middle">20</text>
<text x="238.05" y="26" font-size="34" text-anchor="middle">Porosity (%)</text>
<text transform="translate(25.40 520.15) rotate(-90)" font-size="34" text-anchor="middle">Time (ms)</text>
<text x="125.3" y="932.2" font-size="40" font-weight="bold" fill="#000">(a)</text>
<g><line x1="506.31" y1="82.7" x2="506.31" y2="957.6" stroke="#8a8a8a" stroke-width="1.5" stroke-dasharray="1.5 2.6"/><line x1="518.53" y1="82.7" x2="518.53" y2="957.6" stroke="#8a8a8a" stroke-width="1.5" stroke-dasharray="1.5 2.6"/><line x1="530.75" y1="82.7" x2="530.75" y2="957.6" stroke="#8a8a8a" stroke-width="1.5" stroke-dasharray="1.5 2.6"/><line x1="542.96" y1="82.7" x2="542.96" y2="957.6" stroke="#8a8a8a" stroke-width="1.5" stroke-dasharray="1.5 2.6"/><line x1="555.18" y1="82.7" x2="555.18" y2="957.6" stroke="#8a8a8a" stroke-width="1.5" stroke-dasharray="1.5 2.6"/><line x1="567.39" y1="82.7" x2="567.39" y2="957.6" stroke="#8a8a8a" stroke-width="1.5" stroke-dasharray="1.5 2.6"/><line x1="579.61" y1="82.7" x2="579.61" y2="957.6" stroke="#8a8a8a" stroke-width="1.5" stroke-dasharray="1.5 2.6"/><line x1="591.82" y1="82.7" x2="591.82" y2="957.6" stroke="#8a8a8a" stroke-width="1.5" stroke-dasharray="1.5 2.6"/><line x1="604.04" y1="82.7" x2="604.04" y2="957.6" stroke="#8a8a8a" stroke-width="1.5" stroke-dasharray="1.5 2.6"/><line x1="616.25" y1="82.7" x2="616.25" y2="957.6" stroke="#cbcbcb" stroke-width="1.3"/><line x1="628.47" y1="82.7" x2="628.47" y2="957.6" stroke="#8a8a8a" stroke-width="1.5" stroke-dasharray="1.5 2.6"/><line x1="640.68" y1="82.7" x2="640.68" y2="957.6" stroke="#8a8a8a" stroke-width="1.5" stroke-dasharray="1.5 2.6"/><line x1="652.89" y1="82.7" x2="652.89" y2="957.6" stroke="#8a8a8a" stroke-width="1.5" stroke-dasharray="1.5 2.6"/><line x1="665.11" y1="82.7" x2="665.11" y2="957.6" stroke="#8a8a8a" stroke-width="1.5" stroke-dasharray="1.5 2.6"/><line x1="677.33" y1="82.7" x2="677.33" y2="957.6" stroke="#8a8a8a" stroke-width="1.5" stroke-dasharray="1.5 2.6"/><line x1="689.54" y1="82.7" x2="689.54" y2="957.6" stroke="#8a8a8a" stroke-width="1.5" stroke-dasharray="1.5 2.6"/><line x1="701.76" y1="82.7" x2="701.76" y2="957.6" stroke="#8a8a8a" stroke-width="1.5" stroke-dasharray="1.5 2.6"/><line x1="713.97" y1="82.7" x2="713.97" y2="957.6" stroke="#8a8a8a" stroke-width="1.5" stroke-dasharray="1.5 2.6"/><line x1="726.18" y1="82.7" x2="726.18" y2="957.6" stroke="#8a8a8a" stroke-width="1.5" stroke-dasharray="1.5 2.6"/><line x1="495.1" y1="93.64" x2="738.4000000000001" y2="93.64" stroke="#8a8a8a" stroke-width="1.6" stroke-dasharray="1.5 2.58"/><line x1="495.1" y1="104.57" x2="738.4000000000001" y2="104.57" stroke="#8a8a8a" stroke-width="1.6" stroke-dasharray="1.5 2.58"/><line x1="495.1" y1="115.51" x2="738.4000000000001" y2="115.51" stroke="#8a8a8a" stroke-width="1.6" stroke-dasharray="1.5 2.58"/><line x1="495.1" y1="126.44" x2="738.4000000000001" y2="126.44" stroke="#8a8a8a" stroke-width="1.6" stroke-dasharray="1.5 2.58"/><line x1="495.1" y1="137.38" x2="738.4000000000001" y2="137.38" stroke="#8a8a8a" stroke-width="1.6" stroke-dasharray="1.5 2.58"/><line x1="495.1" y1="148.32" x2="738.4000000000001" y2="148.32" stroke="#8a8a8a" stroke-width="1.6" stroke-dasharray="1.5 2.58"/><line x1="495.1" y1="159.25" x2="738.4000000000001" y2="159.25" stroke="#8a8a8a" stroke-width="1.6" stroke-dasharray="1.5 2.58"/><line x1="495.1" y1="170.19" x2="738.4000000000001" y2="170.19" stroke="#8a8a8a" stroke-width="1.6" stroke-dasharray="1.5 2.58"/><line x1="495.1" y1="181.13" x2="738.4000000000001" y2="181.13" stroke="#8a8a8a" stroke-width="1.6" stroke-dasharray="1.5 2.58"/><line x1="494.1" y1="192.06" x2="738.4000000000001" y2="192.06" stroke="#cbcbcb" stroke-width="1.3"/><line x1="495.1" y1="203.00" x2="738.4000000000001" y2="203.00" stroke="#8a8a8a" stroke-width="1.6" stroke-dasharray="1.5 2.58"/><line x1="495.1" y1="213.94" x2="738.4000000000001" y2="213.94" stroke="#8a8a8a" stroke-width="1.6" stroke-dasharray="1.5 2.58"/><line x1="495.1" y1="224.87" x2="738.4000000000001" y2="224.87" stroke="#8a8a8a" stroke-width="1.6" stroke-dasharray="1.5 2.58"/><line x1="495.1" y1="235.81" x2="738.4000000000001" y2="235.81" stroke="#8a8a8a" stroke-width="1.6" stroke-dasharray="1.5 2.58"/><line x1="495.1" y1="246.74" x2="738.4000000000001" y2="246.74" stroke="#8a8a8a" stroke-width="1.6" stroke-dasharray="1.5 2.58"/><line x1="495.1" y1="257.68" x2="738.4000000000001" y2="257.68" stroke="#8a8a8a" stroke-width="1.6" stroke-dasharray="1.5 2.58"/><line x1="495.1" y1="268.62" x2="738.4000000000001" y2="268.62" stroke="#8a8a8a" stroke-width="1.6" stroke-dasharray="1.5 2.58"/><line x1="495.1" y1="279.55" x2="738.4000000000001" y2="279.55" stroke="#8a8a8a" stroke-width="1.6" stroke-dasharray="1.5 2.58"/><line x1="495.1" y1="290.49" x2="738.4000000000001" y2="290.49" stroke="#8a8a8a" stroke-width="1.6" stroke-dasharray="1.5 2.58"/><line x1="494.1" y1="301.43" x2="738.4000000000001" y2="301.43" stroke="#cbcbcb" stroke-width="1.3"/><line x1="495.1" y1="312.36" x2="738.4000000000001" y2="312.36" stroke="#8a8a8a" stroke-width="1.6" stroke-dasharray="1.5 2.58"/><line x1="495.1" y1="323.30" x2="738.4000000000001" y2="323.30" stroke="#8a8a8a" stroke-width="1.6" stroke-dasharray="1.5 2.58"/><line x1="495.1" y1="334.23" x2="738.4000000000001" y2="334.23" stroke="#8a8a8a" stroke-width="1.6" stroke-dasharray="1.5 2.58"/><line x1="495.1" y1="345.17" x2="738.4000000000001" y2="345.17" stroke="#8a8a8a" stroke-width="1.6" stroke-dasharray="1.5 2.58"/><line x1="495.1" y1="356.11" x2="738.4000000000001" y2="356.11" stroke="#8a8a8a" stroke-width="1.6" stroke-dasharray="1.5 2.58"/><line x1="495.1" y1="367.04" x2="738.4000000000001" y2="367.04" stroke="#8a8a8a" stroke-width="1.6" stroke-dasharray="1.5 2.58"/><line x1="495.1" y1="377.98" x2="738.4000000000001" y2="377.98" stroke="#8a8a8a" stroke-width="1.6" stroke-dasharray="1.5 2.58"/><line x1="495.1" y1="388.92" x2="738.4000000000001" y2="388.92" stroke="#8a8a8a" stroke-width="1.6" stroke-dasharray="1.5 2.58"/><line x1="495.1" y1="399.85" x2="738.4000000000001" y2="399.85" stroke="#8a8a8a" stroke-width="1.6" stroke-dasharray="1.5 2.58"/><line x1="494.1" y1="410.79" x2="738.4000000000001" y2="410.79" stroke="#cbcbcb" stroke-width="1.3"/><line x1="495.1" y1="421.72" x2="738.4000000000001" y2="421.72" stroke="#8a8a8a" stroke-width="1.6" stroke-dasharray="1.5 2.58"/><line x1="495.1" y1="432.66" x2="738.4000000000001" y2="432.66" stroke="#8a8a8a" stroke-width="1.6" stroke-dasharray="1.5 2.58"/><line x1="495.1" y1="443.60" x2="738.4000000000001" y2="443.60" stroke="#8a8a8a" stroke-width="1.6" stroke-dasharray="1.5 2.58"/><line x1="495.1" y1="454.53" x2="738.4000000000001" y2="454.53" stroke="#8a8a8a" stroke-width="1.6" stroke-dasharray="1.5 2.58"/><line x1="495.1" y1="465.47" x2="738.4000000000001" y2="465.47" stroke="#8a8a8a" stroke-width="1.6" stroke-dasharray="1.5 2.58"/><line x1="495.1" y1="476.40" x2="738.4000000000001" y2="476.40" stroke="#8a8a8a" stroke-width="1.6" stroke-dasharray="1.5 2.58"/><line x1="495.1" y1="487.34" x2="738.4000000000001" y2="487.34" stroke="#8a8a8a" stroke-width="1.6" stroke-dasharray="1.5 2.58"/><line x1="495.1" y1="498.28" x2="738.4000000000001" y2="498.28" stroke="#8a8a8a" stroke-width="1.6" stroke-dasharray="1.5 2.58"/><line x1="495.1" y1="509.21" x2="738.4000000000001" y2="509.21" stroke="#8a8a8a" stroke-width="1.6" stroke-dasharray="1.5 2.58"/><line x1="494.1" y1="520.15" x2="738.4000000000001" y2="520.15" stroke="#cbcbcb" stroke-width="1.3"/><line x1="495.1" y1="531.09" x2="738.4000000000001" y2="531.09" stroke="#8a8a8a" stroke-width="1.6" stroke-dasharray="1.5 2.58"/><line x1="495.1" y1="542.02" x2="738.4000000000001" y2="542.02" stroke="#8a8a8a" stroke-width="1.6" stroke-dasharray="1.5 2.58"/><line x1="495.1" y1="552.96" x2="738.4000000000001" y2="552.96" stroke="#8a8a8a" stroke-width="1.6" stroke-dasharray="1.5 2.58"/><line x1="495.1" y1="563.89" x2="738.4000000000001" y2="563.89" stroke="#8a8a8a" stroke-width="1.6" stroke-dasharray="1.5 2.58"/><line x1="495.1" y1="574.83" x2="738.4000000000001" y2="574.83" stroke="#8a8a8a" stroke-width="1.6" stroke-dasharray="1.5 2.58"/><line x1="495.1" y1="585.77" x2="738.4000000000001" y2="585.77" stroke="#8a8a8a" stroke-width="1.6" stroke-dasharray="1.5 2.58"/><line x1="495.1" y1="596.70" x2="738.4000000000001" y2="596.70" stroke="#8a8a8a" stroke-width="1.6" stroke-dasharray="1.5 2.58"/><line x1="495.1" y1="607.64" x2="738.4000000000001" y2="607.64" stroke="#8a8a8a" stroke-width="1.6" stroke-dasharray="1.5 2.58"/><line x1="495.1" y1="618.58" x2="738.4000000000001" y2="618.58" stroke="#8a8a8a" stroke-width="1.6" stroke-dasharray="1.5 2.58"/><line x1="494.1" y1="629.51" x2="738.4000000000001" y2="629.51" stroke="#cbcbcb" stroke-width="1.3"/><line x1="495.1" y1="640.45" x2="738.4000000000001" y2="640.45" stroke="#8a8a8a" stroke-width="1.6" stroke-dasharray="1.5 2.58"/><line x1="495.1" y1="651.38" x2="738.4000000000001" y2="651.38" stroke="#8a8a8a" stroke-width="1.6" stroke-dasharray="1.5 2.58"/><line x1="495.1" y1="662.32" x2="738.4000000000001" y2="662.32" stroke="#8a8a8a" stroke-width="1.6" stroke-dasharray="1.5 2.58"/><line x1="495.1" y1="673.26" x2="738.4000000000001" y2="673.26" stroke="#8a8a8a" stroke-width="1.6" stroke-dasharray="1.5 2.58"/><line x1="495.1" y1="684.19" x2="738.4000000000001" y2="684.19" stroke="#8a8a8a" stroke-width="1.6" stroke-dasharray="1.5 2.58"/><line x1="495.1" y1="695.13" x2="738.4000000000001" y2="695.13" stroke="#8a8a8a" stroke-width="1.6" stroke-dasharray="1.5 2.58"/><line x1="495.1" y1="706.07" x2="738.4000000000001" y2="706.07" stroke="#8a8a8a" stroke-width="1.6" stroke-dasharray="1.5 2.58"/><line x1="495.1" y1="717.00" x2="738.4000000000001" y2="717.00" stroke="#8a8a8a" stroke-width="1.6" stroke-dasharray="1.5 2.58"/><line x1="495.1" y1="727.94" x2="738.4000000000001" y2="727.94" stroke="#8a8a8a" stroke-width="1.6" stroke-dasharray="1.5 2.58"/><line x1="494.1" y1="738.88" x2="738.4000000000001" y2="738.88" stroke="#cbcbcb" stroke-width="1.3"/><line x1="495.1" y1="749.81" x2="738.4000000000001" y2="749.81" stroke="#8a8a8a" stroke-width="1.6" stroke-dasharray="1.5 2.58"/><line x1="495.1" y1="760.75" x2="738.4000000000001" y2="760.75" stroke="#8a8a8a" stroke-width="1.6" stroke-dasharray="1.5 2.58"/><line x1="495.1" y1="771.68" x2="738.4000000000001" y2="771.68" stroke="#8a8a8a" stroke-width="1.6" stroke-dasharray="1.5 2.58"/><line x1="495.1" y1="782.62" x2="738.4000000000001" y2="782.62" stroke="#8a8a8a" stroke-width="1.6" stroke-dasharray="1.5 2.58"/><line x1="495.1" y1="793.56" x2="738.4000000000001" y2="793.56" stroke="#8a8a8a" stroke-width="1.6" stroke-dasharray="1.5 2.58"/><line x1="495.1" y1="804.49" x2="738.4000000000001" y2="804.49" stroke="#8a8a8a" stroke-width="1.6" stroke-dasharray="1.5 2.58"/><line x1="495.1" y1="815.43" x2="738.4000000000001" y2="815.43" stroke="#8a8a8a" stroke-width="1.6" stroke-dasharray="1.5 2.58"/><line x1="495.1" y1="826.37" x2="738.4000000000001" y2="826.37" stroke="#8a8a8a" stroke-width="1.6" stroke-dasharray="1.5 2.58"/><line x1="495.1" y1="837.30" x2="738.4000000000001" y2="837.30" stroke="#8a8a8a" stroke-width="1.6" stroke-dasharray="1.5 2.58"/><line x1="494.1" y1="848.24" x2="738.4000000000001" y2="848.24" stroke="#cbcbcb" stroke-width="1.3"/><line x1="495.1" y1="859.17" x2="738.4000000000001" y2="859.17" stroke="#8a8a8a" stroke-width="1.6" stroke-dasharray="1.5 2.58"/><line x1="495.1" y1="870.11" x2="738.4000000000001" y2="870.11" stroke="#8a8a8a" stroke-width="1.6" stroke-dasharray="1.5 2.58"/><line x1="495.1" y1="881.05" x2="738.4000000000001" y2="881.05" stroke="#8a8a8a" stroke-width="1.6" stroke-dasharray="1.5 2.58"/><line x1="495.1" y1="891.98" x2="738.4000000000001" y2="891.98" stroke="#8a8a8a" stroke-width="1.6" stroke-dasharray="1.5 2.58"/><line x1="495.1" y1="902.92" x2="738.4000000000001" y2="902.92" stroke="#8a8a8a" stroke-width="1.6" stroke-dasharray="1.5 2.58"/><line x1="495.1" y1="913.86" x2="738.4000000000001" y2="913.86" stroke="#8a8a8a" stroke-width="1.6" stroke-dasharray="1.5 2.58"/><line x1="495.1" y1="924.79" x2="738.4000000000001" y2="924.79" stroke="#8a8a8a" stroke-width="1.6" stroke-dasharray="1.5 2.58"/><line x1="495.1" y1="935.73" x2="738.4000000000001" y2="935.73" stroke="#8a8a8a" stroke-width="1.6" stroke-dasharray="1.5 2.58"/><line x1="495.1" y1="946.66" x2="738.4000000000001" y2="946.66" stroke="#8a8a8a" stroke-width="1.6" stroke-dasharray="1.5 2.58"/></g>
<rect x="495.2" y="898.5" width="55.80000000000001" height="52.2" fill="#fff"/>
<path d="M580.0 475.0 L580.4 481.6 L581.6 482.0 L581.0 491.0 L584.0 491.6 L584.4 496.0 L599.0 496.4 L599.6 501.0 L628.0 501.6 L629.0 506.0 L656.0 506.4 L656.4 511.0 L675.0 511.6 L675.0 516.0 L670.0 516.4 L669.6 519.6 L648.0 520.0 L647.0 522.0 L634.0 522.4 L633.0 525.0 L590.0 525.6 L589.0 529.0 L553.0 529.6 L552.0 533.6 L544.4 534.4 L544.4 538.4 L572.0 539.0 L572.4 543.6 L616.0 544.4 L617.0 549.6 L649.0 550.0 L649.0 555.6 L644.0 556.0 L643.6 559.6 L605.0 560.4 L604.4 565.6 L559.0 566.4 L558.0 571.6 L537.6 572.4 L537.6 576.0 L555.0 576.4 L555.6 579.6 L574.0 580.4 L575.0 581.6 L598.0 582.4 L599.0 584.4 L622.0 585.0 L632.0 586.0 L633.0 589.0 L635.6 589.6 L635.0 593.0 L623.0 594.0 L622.0 595.6 L610.0 596.4 L609.0 599.0 L600.4 599.6 L600.4 602.4 L610.0 603.0 L611.0 606.4 L638.0 607.0 L639.0 610.4 L659.0 611.6 L658.4 615.0 L644.0 615.6 L643.6 619.0 L598.0 619.6 L597.0 622.4 L556.0 623.0 L550.0 624.0 L549.0 627.0 L540.0 629.0 L540.4 630.4 L568.0 631.0 L580.0 632.0 L581.0 634.0 L638.0 635.0 L670.0 636.0 L678.0 637.6 L694.0 638.4 L700.0 640.4 L700.0 643.6 L674.0 644.4 L670.0 646.4 L638.0 647.6 L634.0 649.6 L622.0 650.4 L622.4 654.0 L638.0 655.0 L648.0 657.6 L661.0 659.0 L661.6 661.6 L665.0 662.4 L665.0 665.6 L644.0 666.4 L642.0 669.0 L618.0 670.0 L598.0 672.4 L597.0 674.4 L558.0 677.0 L556.0 678.4 L538.0 681.0 L538.0 685.0 L546.0 686.0 L547.0 688.0 L578.0 690.0 L580.0 693.0 L620.0 694.0 L621.0 697.0 L638.0 698.0 L659.0 699.0 L660.0 701.6 L674.0 702.4 L682.0 704.0 L683.0 707.0 L686.0 708.4 L685.0 711.0 L672.0 713.0 L671.0 716.0 L652.0 717.0 L651.0 721.0 L640.0 721.6 L639.0 730.0 L642.0 730.4 L641.6 735.0 L636.0 736.0 L635.0 738.0 L608.0 739.0 L607.6 742.4 L568.0 744.0 L567.0 747.0 L527.0 749.0 L526.0 752.0 L500.0 754.0 L499.0 757.0 L494.4 758.0" fill="none" stroke="#000" stroke-width="3.3" stroke-linejoin="miter"/>
<path d="M613.6 82.4 L614.0 91.0 L617.0 95.0 L615.6 108.0 L619.0 113.0 L619.6 125.6 L628.0 130.0 L643.0 134.4 L644.0 144.0 L645.6 147.6 L630.0 152.4 L627.0 159.0 L645.0 165.0 L640.0 176.0 L633.6 182.4 L635.6 187.0 L620.4 199.0 L616.0 206.0 L613.0 218.0 L614.6 230.0 L616.0 238.0 L619.6 244.0 L621.0 253.0 L608.0 260.0 L598.0 270.0 L593.0 275.0 L596.0 279.0 L603.0 283.6 L605.6 287.0 L602.4 292.0 L608.0 296.0 L618.0 301.0 L623.6 305.6 L616.0 313.6 L604.0 318.0 L589.0 323.0 L593.0 329.0 L602.0 336.0 L603.0 345.0 L604.4 349.0 L618.0 353.0 L648.0 357.0 L676.0 362.0 L680.0 366.0 L670.0 372.0 L648.0 377.6 L618.0 382.4 L598.0 386.0 L589.6 389.0 L590.0 393.0 L602.0 397.0 L622.0 401.6 L629.6 406.0 L626.0 411.0 L625.6 416.0 L630.0 419.6 L658.0 425.0 L678.0 429.6 L685.0 433.0 L682.0 437.0 L658.0 442.0 L628.0 447.0 L602.0 451.0 L590.0 454.4 L591.0 461.6 L587.0 464.0 L580.0 468.0 L579.0 473.0 L577.6 478.0 L580.0 481.6 L602.0 485.0 L614.0 491.0 L628.0 497.0 L641.0 502.0 L630.0 506.0 L628.4 510.0 L625.0 515.0 L618.0 519.0 L602.0 524.0 L584.0 529.0 L578.0 533.0 L579.0 537.0 L586.0 541.0 L602.0 544.0 L616.0 546.0 L623.0 550.4 L614.0 553.0 L604.0 558.0 L598.0 564.0 L597.6 569.0 L601.0 576.0 L606.0 583.0 L607.0 589.0 L611.0 594.0 L607.0 601.0 L610.0 607.0 L606.0 611.0 L586.0 615.0 L574.0 619.6 L563.0 624.0 L572.0 628.0 L586.0 630.4 L618.0 633.0 L658.0 636.4 L680.0 638.4 L662.0 641.6 L678.0 643.2 L718.0 646.6 L678.0 648.0 L638.0 649.6 L623.0 651.0 L625.6 655.0 L623.6 659.0 L638.0 660.0 L668.0 662.0 L696.0 664.4 L668.0 666.4 L638.0 669.6 L598.0 674.4 L568.0 678.4 L545.0 682.0 L547.0 686.0 L558.0 689.6 L572.0 693.0 L582.0 698.0 L598.0 700.0 L628.0 703.0 L658.0 705.0 L678.0 706.4 L699.0 708.0 L678.0 711.6 L658.0 714.0 L628.0 717.0 L606.0 719.6 L596.0 721.0 L602.0 724.4 L618.0 727.0 L634.0 729.6 L637.0 732.0 L634.0 735.0 L624.0 739.0 L618.0 743.0 L606.0 746.4 L590.0 749.0 L581.0 751.6 L581.0 757.0 L587.0 764.0 L594.0 772.4 L592.0 777.0 L585.0 782.0 L583.6 787.0 L587.0 792.0 L596.0 798.0 L603.0 804.0 L604.4 809.0 L607.6 812.4 L603.0 818.0 L594.0 826.0 L589.0 834.0 L594.0 839.0 L604.0 845.0 L606.0 849.0 L605.0 855.0 L598.0 861.0 L586.0 868.0 L582.4 875.0 L581.6 883.0 L583.0 891.0 L577.0 899.0 L569.0 905.0 L560.0 910.0 L556.0 913.4 L562.0 919.0 L574.0 928.0 L586.0 934.6 L606.0 938.0 L631.0 943.4 L618.0 947.0 L614.0 948.6 L614.0 957.6" fill="none" stroke="#0000ff" stroke-width="3.0" stroke-linejoin="miter"/>
<g><line x1="494.1" y1="192.06" x2="503.1" y2="192.06" stroke="#1a1a1a" stroke-width="2"/><line x1="729.4000000000001" y1="192.06" x2="738.4000000000001" y2="192.06" stroke="#1a1a1a" stroke-width="2"/><line x1="494.1" y1="301.43" x2="503.1" y2="301.43" stroke="#1a1a1a" stroke-width="2"/><line x1="729.4000000000001" y1="301.43" x2="738.4000000000001" y2="301.43" stroke="#1a1a1a" stroke-width="2"/><line x1="494.1" y1="410.79" x2="503.1" y2="410.79" stroke="#1a1a1a" stroke-width="2"/><line x1="729.4000000000001" y1="410.79" x2="738.4000000000001" y2="410.79" stroke="#1a1a1a" stroke-width="2"/><line x1="494.1" y1="520.15" x2="503.1" y2="520.15" stroke="#1a1a1a" stroke-width="2"/><line x1="729.4000000000001" y1="520.15" x2="738.4000000000001" y2="520.15" stroke="#1a1a1a" stroke-width="2"/><line x1="494.1" y1="629.51" x2="503.1" y2="629.51" stroke="#1a1a1a" stroke-width="2"/><line x1="729.4000000000001" y1="629.51" x2="738.4000000000001" y2="629.51" stroke="#1a1a1a" stroke-width="2"/><line x1="494.1" y1="738.88" x2="503.1" y2="738.88" stroke="#1a1a1a" stroke-width="2"/><line x1="729.4000000000001" y1="738.88" x2="738.4000000000001" y2="738.88" stroke="#1a1a1a" stroke-width="2"/><line x1="494.1" y1="848.24" x2="503.1" y2="848.24" stroke="#1a1a1a" stroke-width="2"/><line x1="729.4000000000001" y1="848.24" x2="738.4000000000001" y2="848.24" stroke="#1a1a1a" stroke-width="2"/><line x1="616.25" y1="82.7" x2="616.25" y2="91.7" stroke="#1a1a1a" stroke-width="2"/><line x1="616.25" y1="948.6" x2="616.25" y2="957.6" stroke="#1a1a1a" stroke-width="2"/></g>
<rect x="494.1" y="82.7" width="244.3" height="874.9" fill="none" stroke="#1a1a1a" stroke-width="2"/>
<text transform="translate(481.80 93.70) scale(0.94 1)" font-size="32" text-anchor="end">800</text>
<text transform="translate(481.80 203.06) scale(0.94 1)" font-size="32" text-anchor="end">850</text>
<text transform="translate(481.80 312.43) scale(0.94 1)" font-size="32" text-anchor="end">900</text>
<text transform="translate(481.80 421.79) scale(0.94 1)" font-size="32" text-anchor="end">950</text>
<text transform="translate(481.80 531.15) scale(0.94 1)" font-size="32" text-anchor="end">1000</text>
<text transform="translate(481.80 640.51) scale(0.94 1)" font-size="32" text-anchor="end">1050</text>
<text transform="translate(481.80 749.88) scale(0.94 1)" font-size="32" text-anchor="end">1100</text>
<text transform="translate(481.80 859.24) scale(0.94 1)" font-size="32" text-anchor="end">1150</text>
<text transform="translate(481.80 968.60) scale(0.94 1)" font-size="32" text-anchor="end">1200</text>
<text transform="translate(494.10 64.4) scale(0.94 1)" font-size="32" text-anchor="middle">0</text>
<text transform="translate(616.25 64.4) scale(0.94 1)" font-size="32" text-anchor="middle">10</text>
<text transform="translate(738.40 64.4) scale(0.94 1)" font-size="32" text-anchor="middle">20</text>
<text x="616.25" y="26" font-size="34" text-anchor="middle">Porosity (%)</text>
<text transform="translate(403.60 520.15) rotate(-90)" font-size="34" text-anchor="middle">Time (ms)</text>
<text x="500.3" y="932.2" font-size="40" font-weight="bold" fill="#000">(b)</text>
<g><line x1="884.47" y1="82.7" x2="884.47" y2="957.6" stroke="#8a8a8a" stroke-width="1.5" stroke-dasharray="1.5 2.6"/><line x1="896.68" y1="82.7" x2="896.68" y2="957.6" stroke="#8a8a8a" stroke-width="1.5" stroke-dasharray="1.5 2.6"/><line x1="908.89" y1="82.7" x2="908.89" y2="957.6" stroke="#8a8a8a" stroke-width="1.5" stroke-dasharray="1.5 2.6"/><line x1="921.11" y1="82.7" x2="921.11" y2="957.6" stroke="#8a8a8a" stroke-width="1.5" stroke-dasharray="1.5 2.6"/><line x1="933.33" y1="82.7" x2="933.33" y2="957.6" stroke="#cbcbcb" stroke-width="1.3"/><line x1="945.54" y1="82.7" x2="945.54" y2="957.6" stroke="#8a8a8a" stroke-width="1.5" stroke-dasharray="1.5 2.6"/><line x1="957.75" y1="82.7" x2="957.75" y2="957.6" stroke="#8a8a8a" stroke-width="1.5" stroke-dasharray="1.5 2.6"/><line x1="969.97" y1="82.7" x2="969.97" y2="957.6" stroke="#8a8a8a" stroke-width="1.5" stroke-dasharray="1.5 2.6"/><line x1="982.19" y1="82.7" x2="982.19" y2="957.6" stroke="#8a8a8a" stroke-width="1.5" stroke-dasharray="1.5 2.6"/><line x1="994.40" y1="82.7" x2="994.40" y2="957.6" stroke="#8a8a8a" stroke-width="1.5" stroke-dasharray="1.5 2.6"/><line x1="1006.62" y1="82.7" x2="1006.62" y2="957.6" stroke="#8a8a8a" stroke-width="1.5" stroke-dasharray="1.5 2.6"/><line x1="1018.83" y1="82.7" x2="1018.83" y2="957.6" stroke="#8a8a8a" stroke-width="1.5" stroke-dasharray="1.5 2.6"/><line x1="1031.05" y1="82.7" x2="1031.05" y2="957.6" stroke="#8a8a8a" stroke-width="1.5" stroke-dasharray="1.5 2.6"/><line x1="1043.26" y1="82.7" x2="1043.26" y2="957.6" stroke="#8a8a8a" stroke-width="1.5" stroke-dasharray="1.5 2.6"/><line x1="1055.47" y1="82.7" x2="1055.47" y2="957.6" stroke="#cbcbcb" stroke-width="1.3"/><line x1="1067.69" y1="82.7" x2="1067.69" y2="957.6" stroke="#8a8a8a" stroke-width="1.5" stroke-dasharray="1.5 2.6"/><line x1="1079.90" y1="82.7" x2="1079.90" y2="957.6" stroke="#8a8a8a" stroke-width="1.5" stroke-dasharray="1.5 2.6"/><line x1="1092.12" y1="82.7" x2="1092.12" y2="957.6" stroke="#8a8a8a" stroke-width="1.5" stroke-dasharray="1.5 2.6"/><line x1="1104.34" y1="82.7" x2="1104.34" y2="957.6" stroke="#8a8a8a" stroke-width="1.5" stroke-dasharray="1.5 2.6"/><line x1="873.25" y1="93.64" x2="1116.55" y2="93.64" stroke="#8a8a8a" stroke-width="1.6" stroke-dasharray="1.5 2.58"/><line x1="873.25" y1="104.57" x2="1116.55" y2="104.57" stroke="#8a8a8a" stroke-width="1.6" stroke-dasharray="1.5 2.58"/><line x1="873.25" y1="115.51" x2="1116.55" y2="115.51" stroke="#8a8a8a" stroke-width="1.6" stroke-dasharray="1.5 2.58"/><line x1="873.25" y1="126.44" x2="1116.55" y2="126.44" stroke="#8a8a8a" stroke-width="1.6" stroke-dasharray="1.5 2.58"/><line x1="873.25" y1="137.38" x2="1116.55" y2="137.38" stroke="#8a8a8a" stroke-width="1.6" stroke-dasharray="1.5 2.58"/><line x1="873.25" y1="148.32" x2="1116.55" y2="148.32" stroke="#8a8a8a" stroke-width="1.6" stroke-dasharray="1.5 2.58"/><line x1="873.25" y1="159.25" x2="1116.55" y2="159.25" stroke="#8a8a8a" stroke-width="1.6" stroke-dasharray="1.5 2.58"/><line x1="873.25" y1="170.19" x2="1116.55" y2="170.19" stroke="#8a8a8a" stroke-width="1.6" stroke-dasharray="1.5 2.58"/><line x1="873.25" y1="181.13" x2="1116.55" y2="181.13" stroke="#8a8a8a" stroke-width="1.6" stroke-dasharray="1.5 2.58"/><line x1="872.25" y1="192.06" x2="1116.55" y2="192.06" stroke="#cbcbcb" stroke-width="1.3"/><line x1="873.25" y1="203.00" x2="1116.55" y2="203.00" stroke="#8a8a8a" stroke-width="1.6" stroke-dasharray="1.5 2.58"/><line x1="873.25" y1="213.94" x2="1116.55" y2="213.94" stroke="#8a8a8a" stroke-width="1.6" stroke-dasharray="1.5 2.58"/><line x1="873.25" y1="224.87" x2="1116.55" y2="224.87" stroke="#8a8a8a" stroke-width="1.6" stroke-dasharray="1.5 2.58"/><line x1="873.25" y1="235.81" x2="1116.55" y2="235.81" stroke="#8a8a8a" stroke-width="1.6" stroke-dasharray="1.5 2.58"/><line x1="873.25" y1="246.74" x2="1116.55" y2="246.74" stroke="#8a8a8a" stroke-width="1.6" stroke-dasharray="1.5 2.58"/><line x1="873.25" y1="257.68" x2="1116.55" y2="257.68" stroke="#8a8a8a" stroke-width="1.6" stroke-dasharray="1.5 2.58"/><line x1="873.25" y1="268.62" x2="1116.55" y2="268.62" stroke="#8a8a8a" stroke-width="1.6" stroke-dasharray="1.5 2.58"/><line x1="873.25" y1="279.55" x2="1116.55" y2="279.55" stroke="#8a8a8a" stroke-width="1.6" stroke-dasharray="1.5 2.58"/><line x1="873.25" y1="290.49" x2="1116.55" y2="290.49" stroke="#8a8a8a" stroke-width="1.6" stroke-dasharray="1.5 2.58"/><line x1="872.25" y1="301.43" x2="1116.55" y2="301.43" stroke="#cbcbcb" stroke-width="1.3"/><line x1="873.25" y1="312.36" x2="1116.55" y2="312.36" stroke="#8a8a8a" stroke-width="1.6" stroke-dasharray="1.5 2.58"/><line x1="873.25" y1="323.30" x2="1116.55" y2="323.30" stroke="#8a8a8a" stroke-width="1.6" stroke-dasharray="1.5 2.58"/><line x1="873.25" y1="334.23" x2="1116.55" y2="334.23" stroke="#8a8a8a" stroke-width="1.6" stroke-dasharray="1.5 2.58"/><line x1="873.25" y1="345.17" x2="1116.55" y2="345.17" stroke="#8a8a8a" stroke-width="1.6" stroke-dasharray="1.5 2.58"/><line x1="873.25" y1="356.11" x2="1116.55" y2="356.11" stroke="#8a8a8a" stroke-width="1.6" stroke-dasharray="1.5 2.58"/><line x1="873.25" y1="367.04" x2="1116.55" y2="367.04" stroke="#8a8a8a" stroke-width="1.6" stroke-dasharray="1.5 2.58"/><line x1="873.25" y1="377.98" x2="1116.55" y2="377.98" stroke="#8a8a8a" stroke-width="1.6" stroke-dasharray="1.5 2.58"/><line x1="873.25" y1="388.92" x2="1116.55" y2="388.92" stroke="#8a8a8a" stroke-width="1.6" stroke-dasharray="1.5 2.58"/><line x1="873.25" y1="399.85" x2="1116.55" y2="399.85" stroke="#8a8a8a" stroke-width="1.6" stroke-dasharray="1.5 2.58"/><line x1="872.25" y1="410.79" x2="1116.55" y2="410.79" stroke="#cbcbcb" stroke-width="1.3"/><line x1="873.25" y1="421.72" x2="1116.55" y2="421.72" stroke="#8a8a8a" stroke-width="1.6" stroke-dasharray="1.5 2.58"/><line x1="873.25" y1="432.66" x2="1116.55" y2="432.66" stroke="#8a8a8a" stroke-width="1.6" stroke-dasharray="1.5 2.58"/><line x1="873.25" y1="443.60" x2="1116.55" y2="443.60" stroke="#8a8a8a" stroke-width="1.6" stroke-dasharray="1.5 2.58"/><line x1="873.25" y1="454.53" x2="1116.55" y2="454.53" stroke="#8a8a8a" stroke-width="1.6" stroke-dasharray="1.5 2.58"/><line x1="873.25" y1="465.47" x2="1116.55" y2="465.47" stroke="#8a8a8a" stroke-width="1.6" stroke-dasharray="1.5 2.58"/><line x1="873.25" y1="476.40" x2="1116.55" y2="476.40" stroke="#8a8a8a" stroke-width="1.6" stroke-dasharray="1.5 2.58"/><line x1="873.25" y1="487.34" x2="1116.55" y2="487.34" stroke="#8a8a8a" stroke-width="1.6" stroke-dasharray="1.5 2.58"/><line x1="873.25" y1="498.28" x2="1116.55" y2="498.28" stroke="#8a8a8a" stroke-width="1.6" stroke-dasharray="1.5 2.58"/><line x1="873.25" y1="509.21" x2="1116.55" y2="509.21" stroke="#8a8a8a" stroke-width="1.6" stroke-dasharray="1.5 2.58"/><line x1="872.25" y1="520.15" x2="1116.55" y2="520.15" stroke="#cbcbcb" stroke-width="1.3"/><line x1="873.25" y1="531.09" x2="1116.55" y2="531.09" stroke="#8a8a8a" stroke-width="1.6" stroke-dasharray="1.5 2.58"/><line x1="873.25" y1="542.02" x2="1116.55" y2="542.02" stroke="#8a8a8a" stroke-width="1.6" stroke-dasharray="1.5 2.58"/><line x1="873.25" y1="552.96" x2="1116.55" y2="552.96" stroke="#8a8a8a" stroke-width="1.6" stroke-dasharray="1.5 2.58"/><line x1="873.25" y1="563.89" x2="1116.55" y2="563.89" stroke="#8a8a8a" stroke-width="1.6" stroke-dasharray="1.5 2.58"/><line x1="873.25" y1="574.83" x2="1116.55" y2="574.83" stroke="#8a8a8a" stroke-width="1.6" stroke-dasharray="1.5 2.58"/><line x1="873.25" y1="585.77" x2="1116.55" y2="585.77" stroke="#8a8a8a" stroke-width="1.6" stroke-dasharray="1.5 2.58"/><line x1="873.25" y1="596.70" x2="1116.55" y2="596.70" stroke="#8a8a8a" stroke-width="1.6" stroke-dasharray="1.5 2.58"/><line x1="873.25" y1="607.64" x2="1116.55" y2="607.64" stroke="#8a8a8a" stroke-width="1.6" stroke-dasharray="1.5 2.58"/><line x1="873.25" y1="618.58" x2="1116.55" y2="618.58" stroke="#8a8a8a" stroke-width="1.6" stroke-dasharray="1.5 2.58"/><line x1="872.25" y1="629.51" x2="1116.55" y2="629.51" stroke="#cbcbcb" stroke-width="1.3"/><line x1="873.25" y1="640.45" x2="1116.55" y2="640.45" stroke="#8a8a8a" stroke-width="1.6" stroke-dasharray="1.5 2.58"/><line x1="873.25" y1="651.38" x2="1116.55" y2="651.38" stroke="#8a8a8a" stroke-width="1.6" stroke-dasharray="1.5 2.58"/><line x1="873.25" y1="662.32" x2="1116.55" y2="662.32" stroke="#8a8a8a" stroke-width="1.6" stroke-dasharray="1.5 2.58"/><line x1="873.25" y1="673.26" x2="1116.55" y2="673.26" stroke="#8a8a8a" stroke-width="1.6" stroke-dasharray="1.5 2.58"/><line x1="873.25" y1="684.19" x2="1116.55" y2="684.19" stroke="#8a8a8a" stroke-width="1.6" stroke-dasharray="1.5 2.58"/><line x1="873.25" y1="695.13" x2="1116.55" y2="695.13" stroke="#8a8a8a" stroke-width="1.6" stroke-dasharray="1.5 2.58"/><line x1="873.25" y1="706.07" x2="1116.55" y2="706.07" stroke="#8a8a8a" stroke-width="1.6" stroke-dasharray="1.5 2.58"/><line x1="873.25" y1="717.00" x2="1116.55" y2="717.00" stroke="#8a8a8a" stroke-width="1.6" stroke-dasharray="1.5 2.58"/><line x1="873.25" y1="727.94" x2="1116.55" y2="727.94" stroke="#8a8a8a" stroke-width="1.6" stroke-dasharray="1.5 2.58"/><line x1="872.25" y1="738.88" x2="1116.55" y2="738.88" stroke="#cbcbcb" stroke-width="1.3"/><line x1="873.25" y1="749.81" x2="1116.55" y2="749.81" stroke="#8a8a8a" stroke-width="1.6" stroke-dasharray="1.5 2.58"/><line x1="873.25" y1="760.75" x2="1116.55" y2="760.75" stroke="#8a8a8a" stroke-width="1.6" stroke-dasharray="1.5 2.58"/><line x1="873.25" y1="771.68" x2="1116.55" y2="771.68" stroke="#8a8a8a" stroke-width="1.6" stroke-dasharray="1.5 2.58"/><line x1="873.25" y1="782.62" x2="1116.55" y2="782.62" stroke="#8a8a8a" stroke-width="1.6" stroke-dasharray="1.5 2.58"/><line x1="873.25" y1="793.56" x2="1116.55" y2="793.56" stroke="#8a8a8a" stroke-width="1.6" stroke-dasharray="1.5 2.58"/><line x1="873.25" y1="804.49" x2="1116.55" y2="804.49" stroke="#8a8a8a" stroke-width="1.6" stroke-dasharray="1.5 2.58"/><line x1="873.25" y1="815.43" x2="1116.55" y2="815.43" stroke="#8a8a8a" stroke-width="1.6" stroke-dasharray="1.5 2.58"/><line x1="873.25" y1="826.37" x2="1116.55" y2="826.37" stroke="#8a8a8a" stroke-width="1.6" stroke-dasharray="1.5 2.58"/><line x1="873.25" y1="837.30" x2="1116.55" y2="837.30" stroke="#8a8a8a" stroke-width="1.6" stroke-dasharray="1.5 2.58"/><line x1="872.25" y1="848.24" x2="1116.55" y2="848.24" stroke="#cbcbcb" stroke-width="1.3"/><line x1="873.25" y1="859.17" x2="1116.55" y2="859.17" stroke="#8a8a8a" stroke-width="1.6" stroke-dasharray="1.5 2.58"/><line x1="873.25" y1="870.11" x2="1116.55" y2="870.11" stroke="#8a8a8a" stroke-width="1.6" stroke-dasharray="1.5 2.58"/><line x1="873.25" y1="881.05" x2="1116.55" y2="881.05" stroke="#8a8a8a" stroke-width="1.6" stroke-dasharray="1.5 2.58"/><line x1="873.25" y1="891.98" x2="1116.55" y2="891.98" stroke="#8a8a8a" stroke-width="1.6" stroke-dasharray="1.5 2.58"/><line x1="873.25" y1="902.92" x2="1116.55" y2="902.92" stroke="#8a8a8a" stroke-width="1.6" stroke-dasharray="1.5 2.58"/><line x1="873.25" y1="913.86" x2="1116.55" y2="913.86" stroke="#8a8a8a" stroke-width="1.6" stroke-dasharray="1.5 2.58"/><line x1="873.25" y1="924.79" x2="1116.55" y2="924.79" stroke="#8a8a8a" stroke-width="1.6" stroke-dasharray="1.5 2.58"/><line x1="873.25" y1="935.73" x2="1116.55" y2="935.73" stroke="#8a8a8a" stroke-width="1.6" stroke-dasharray="1.5 2.58"/><line x1="873.25" y1="946.66" x2="1116.55" y2="946.66" stroke="#8a8a8a" stroke-width="1.6" stroke-dasharray="1.5 2.58"/></g>
<rect x="881" y="898.5" width="56" height="52.2" fill="#fff"/>
<path d="M943.6 82.7 L943.6 84.9 L943.6 84.9 L943.6 87.1 L943.6 87.1 L943.6 89.3 L943.6 89.3 L943.6 91.4 L943.6 91.4 L943.6 93.6 L943.6 93.6 L943.6 95.8 L943.6 95.8 L943.6 98.0 L943.6 98.0 L943.6 100.2 L943.6 100.2 L943.6 102.4 L943.6 102.4 L943.6 104.6 L943.6 104.6 L943.6 106.8 L943.6 106.8 L943.6 108.9 L943.5 108.9 L943.5 111.1 L943.5 111.1 L943.5 113.3 L943.4 113.3 L943.4 115.5 L943.3 115.5 L943.3 117.7 L943.3 117.7 L943.3 119.9 L943.2 119.9 L943.2 122.1 L943.1 122.1 L943.1 124.3 L943.1 124.3 L943.1 126.4 L943.0 126.4 L943.0 128.6 L943.0 128.6 L943.0 130.8 L943.1 130.8 L943.1 133.0 L943.1 133.0 L943.1 135.2 L943.2 135.2 L943.2 137.4 L943.2 137.4 L943.2 139.6 L943.3 139.6 L943.3 141.8 L943.3 141.8 L943.3 143.9 L943.3 143.9 L943.3 146.1 L943.4 146.1 L943.4 148.3 L943.4 148.3 L943.4 150.5 L943.5 150.5 L943.5 152.7 L943.5 152.7 L943.5 154.9 L943.6 154.9 L943.6 157.1 L943.6 157.1 L943.6 159.3 L943.6 159.3 L943.6 161.4 L943.7 161.4 L943.7 163.6 L943.7 163.6 L943.7 165.8 L943.8 165.8 L943.8 168.0 L943.8 168.0 L943.8 170.2 L943.9 170.2 L943.9 172.4 L943.9 172.4 L943.9 174.6 L944.0 174.6 L944.0 176.8 L944.0 176.8 L944.0 178.9 L943.9 178.9 L943.9 181.1 L943.8 181.1 L943.8 183.3 L943.7 183.3 L943.7 185.5 L943.6 185.5 L943.6 187.7 L943.5 187.7 L943.5 189.9 L943.4 189.9 L943.4 192.1 L943.2 192.1 L943.2 194.2 L943.1 194.2 L943.1 196.4 L943.0 196.4 L943.0 198.6 L942.9 198.6 L942.9 200.8 L942.8 200.8 L942.8 203.0 L942.6 203.0 L942.6 205.2 L942.5 205.2 L942.5 207.4 L942.5 207.4 L942.5 209.6 L942.9 209.6 L942.9 211.7 L943.4 211.7 L943.4 213.9 L943.8 213.9 L943.8 216.1 L944.0 216.1 L944.0 218.3 L944.0 218.3 L944.0 220.5 L944.0 220.5 L944.0 222.7 L944.0 222.7 L944.0 224.9 L943.5 224.9 L943.5 227.1 L942.5 227.1 L942.5 229.2 L941.6 229.2 L941.6 231.4 L941.4 231.4 L941.4 233.6 L941.2 233.6 L941.2 235.8 L941.1 235.8 L941.1 238.0 L941.4 238.0 L941.4 240.2 L942.1 240.2 L942.1 242.4 L942.8 242.4 L942.8 244.6 L944.3 244.6 L944.3 246.7 L946.1 246.7 L946.1 248.9 L946.8 248.9 L946.8 251.1 L946.5 251.1 L946.5 253.3 L946.1 253.3 L946.1 255.5 L944.4 255.5 L944.4 257.7 L942.2 257.7 L942.2 259.9 L941.3 259.9 L941.3 262.1 L937.0 262.1 L937.0 264.2 L936.6 264.2 L936.6 266.4 L936.2 266.4 L936.2 268.6 L936.3 268.6 L936.3 270.8 L941.7 270.8 L941.7 273.0 L952.2 273.0 L952.2 275.2 L958.1 275.2 L958.1 277.4 L965.8 277.4 L965.8 279.6 L984.4 279.6 L984.4 281.7 L987.7 281.7 L987.7 283.9 L1009.9 283.9 L1009.9 286.1 L1017.2 286.1 L1017.2 288.3 L1028.3 288.3 L1028.3 290.5 L1029.7 290.5 L1029.7 292.7 L1034.0 292.7 L1034.0 294.9 L1033.7 294.9 L1033.7 297.1 L1027.9 297.1 L1027.9 299.2 L1026.1 299.2 L1026.1 301.4 L1013.3 301.4 L1013.3 303.6 L1010.4 303.6 L1010.4 305.8 L998.8 305.8 L998.8 308.0 L995.4 308.0 L995.4 310.2 L988.4 310.2 L988.4 312.4 L987.3 312.4 L987.3 314.5 L987.5 314.5 L987.5 316.7 L990.5 316.7 L990.5 318.9 L994.3 318.9 L994.3 321.1 L995.9 321.1 L995.9 323.3 L1002.5 323.3 L1002.5 325.5 L1003.8 325.5 L1003.8 327.7 L1007.8 327.7 L1007.8 329.9 L1007.3 329.9 L1007.3 332.0 L1005.4 332.0 L1005.4 334.2 L1002.4 334.2 L1002.4 336.4 L995.2 336.4 L995.2 338.6 L990.5 338.6 L990.5 340.8 L978.3 340.8 L978.3 343.0 L975.5 343.0 L975.5 345.2 L965.5 345.2 L965.5 347.4 L963.7 347.4 L963.7 349.5 L956.4 349.5 L956.4 351.7 L955.1 351.7 L955.1 353.9 L954.5 353.9 L954.5 356.1 L954.2 356.1 L954.2 358.3 L956.8 358.3 L956.8 360.5 L961.7 360.5 L961.7 362.7 L964.3 362.7 L964.3 364.9 L966.0 364.9 L966.0 367.0 L965.5 367.0 L965.5 369.2 L964.5 369.2 L964.5 371.4 L960.8 371.4 L960.8 373.6 L955.5 373.6 L955.5 375.8 L949.8 375.8 L949.8 378.0 L939.3 378.0 L939.3 380.2 L928.3 380.2 L928.3 382.4 L924.2 382.4 L924.2 384.5 L918.7 384.5 L918.7 386.7 L918.6 386.7 L918.6 388.9 L920.5 388.9 L920.5 391.1 L930.5 391.1 L930.5 393.3 L938.1 393.3 L938.1 395.5 L951.7 395.5 L951.7 397.7 L965.1 397.7 L965.1 399.9 L971.9 399.9 L971.9 402.0 L989.5 402.0 L989.5 404.2 L998.2 404.2 L998.2 406.4 L1010.6 406.4 L1010.6 408.6 L1012.9 408.6 L1012.9 410.8 L1011.1 410.8 L1011.1 413.0 L1010.3 413.0 L1010.3 415.2 L996.7 415.2 L996.7 417.3 L992.3 417.3 L992.3 419.5 L977.7 419.5 L977.7 421.7 L966.3 421.7 L966.3 423.9 L942.0 423.9 L942.0 426.1 L928.5 426.1 L928.5 428.3 L919.7 428.3 L919.7 430.5 L916.1 430.5 L916.1 432.7 L908.9 432.7 L908.9 434.8 L907.4 434.8 L907.4 437.0 L906.1 437.0 L906.1 439.2 L906.9 439.2 L906.9 441.4 L907.8 441.4 L907.8 443.6 L910.4 443.6 L910.4 445.8 L914.0 445.8 L914.0 448.0 L915.6 448.0 L915.6 450.2 L927.1 450.2 L927.1 452.3 L929.8 452.3 L929.8 454.5 L940.3 454.5 L940.3 456.7 L948.3 456.7 L948.3 458.9 L963.0 458.9 L963.0 461.1 L974.8 461.1 L974.8 463.3 L984.1 463.3 L984.1 465.5 L997.1 465.5 L997.1 467.7 L1000.7 467.7 L1000.7 469.8 L1002.9 469.8 L1002.9 472.0 L1006.2 472.0 L1006.2 474.2 L1011.9 474.2 L1011.9 476.4 L1015.0 476.4 L1015.0 478.6 L1016.7 478.6 L1016.7 480.8 L1018.9 480.8 L1018.9 483.0 L1020.4 483.0 L1020.4 485.2 L1021.3 485.2 L1021.3 487.3 L1022.2 487.3 L1022.2 489.5 L1021.9 489.5 L1021.9 491.7 L1021.3 491.7 L1021.3 493.9 L1019.3 493.9 L1019.3 496.1 L1015.6 496.1 L1015.6 498.3 L1011.3 498.3 L1011.3 500.5 L1006.9 500.5 L1006.9 502.7 L995.8 502.7 L995.8 504.8 L992.1 504.8 L992.1 507.0 L979.8 507.0 L979.8 509.2 L975.4 509.2 L975.4 511.4 L967.9 511.4 L967.9 513.6 L965.4 513.6 L965.4 515.8 L964.5 515.8 L964.5 518.0 L964.0 518.0 L964.0 520.1 L965.7 520.2 L965.7 522.3 L968.1 522.3 L968.1 524.5 L972.8 524.5 L972.8 526.7 L975.7 526.7 L975.7 528.9 L984.0 528.9 L984.0 531.1 L986.9 531.1 L986.9 533.3 L995.8 533.3 L995.8 535.5 L999.3 535.5 L999.3 537.6 L1012.7 537.6 L1012.7 539.8 L1019.0 539.8 L1019.0 542.0 L1025.8 542.0 L1025.8 544.2 L1027.5 544.2 L1027.5 546.4 L1032.7 546.4 L1032.7 548.6 L1032.7 548.6 L1032.7 550.8 L1032.3 550.8 L1032.3 553.0 L1031.7 553.0 L1031.7 555.1 L1021.6 555.1 L1021.6 557.3 L1017.7 557.3 L1017.7 559.5 L1004.6 559.5 L1004.6 561.7 L996.6 561.7 L996.6 563.9 L984.8 563.9 L984.8 566.1 L981.4 566.1 L981.4 568.3 L976.5 568.3 L976.5 570.5 L972.9 570.5 L972.9 572.6 L972.7 572.6 L972.7 574.8 L972.4 574.8 L972.4 577.0 L980.7 577.0 L980.7 579.2 L983.9 579.2 L983.9 581.4 L995.8 581.4 L995.8 583.6 L1005.4 583.6 L1005.4 585.8 L1016.3 585.8 L1016.3 588.0 L1021.4 588.0 L1021.4 590.1 L1029.8 590.1 L1029.8 592.3 L1029.3 592.3 L1029.3 594.5 L1028.6 594.5 L1028.6 596.7 L1027.1 596.7 L1027.1 598.9 L1014.7 598.9 L1014.7 601.1 L1010.3 601.1 L1010.3 603.3 L999.3 603.3 L999.3 605.5 L995.5 605.5 L995.5 607.6 L992.3 607.6 L992.3 609.8 L988.0 609.8 L988.0 612.0 L990.8 612.0 L990.8 614.2 L993.4 614.2 L993.4 616.4 L1008.7 616.4 L1008.7 618.6 L1012.6 618.6 L1012.6 620.8 L1037.7 620.8 L1037.7 623.0 L1042.6 623.0 L1042.6 625.1 L1063.4 625.1 L1063.4 627.3 L1064.4 627.3 L1064.4 629.5 L1065.9 629.5 L1065.9 631.7 L1065.6 631.7 L1065.6 633.9 L1046.5 633.9 L1046.5 636.1 L1044.3 636.1 L1044.3 638.3 L1015.3 638.3 L1015.3 640.4 L1004.1 640.4 L1004.1 642.6 L974.7 642.6 L974.7 644.8 L968.8 644.8 L968.8 647.0 L955.3 647.0 L955.3 649.2 L943.7 649.2 L943.7 651.4 L939.0 651.4 L939.0 653.6 L939.7 653.6 L939.7 655.8 L947.1 655.8 L947.1 657.9 L947.7 657.9 L947.7 660.1 L955.6 660.1 L955.6 662.3 L955.4 662.3 L955.4 664.5 L955.2 664.5 L955.2 666.7 L955.0 666.7 L955.0 668.9 L947.3 668.9 L947.3 671.1 L945.0 671.1 L945.0 673.3 L939.8 673.3 L939.8 675.4 L940.4 675.4 L940.4 677.6 L943.6 677.6 L943.6 679.8 L955.5 679.8 L955.5 682.0 L964.4 682.0 L964.4 684.2 L980.9 684.2 L980.9 686.4 L990.9 686.4 L990.9 688.6 L1006.9 688.6 L1006.9 690.8 L1038.2 690.8 L1038.2 692.9 L1041.4 692.9 L1041.4 695.1 L1058.0 695.1 L1058.0 697.3 L1058.0 697.3 L1058.0 699.5 L1057.4 699.5 L1057.4 701.7 L1055.2 701.7 L1055.2 703.9 L1046.7 703.9 L1046.7 706.1 L1038.1 706.1 L1038.1 708.3 L1025.5 708.3 L1025.5 710.4 L1022.6 710.4 L1022.6 712.6 L1013.9 712.6 L1013.9 714.8 L1011.3 714.8 L1011.3 717.0 L1008.9 717.0 L1008.9 719.2 L1006.7 719.2 L1006.7 721.4 L999.9 721.4 L999.9 723.6 L996.5 723.6 L996.5 725.8 L982.3 725.8 L982.3 727.9 L972.8 727.9 L972.8 730.1 L947.8 730.1 L947.8 732.3 L941.9 732.3 L941.9 734.5 L932.0 734.5 L932.0 736.7 L915.2 736.7 L915.2 738.9 L904.0 738.9 L904.0 741.1 L905.0 741.1 L905.0 743.2 L914.3 743.2 L914.3 745.4 L919.6 745.4 L919.6 747.6 L950.2 747.6 L950.2 749.8 L951.0 749.8 L951.0 752.0 L994.4 752.0 L994.4 754.2 L995.6 754.2 L995.6 756.4 L1032.0 756.4 L1032.0 758.6 L1032.2 758.6 L1032.2 760.7 L1041.8 760.7 L1041.8 762.9 L1048.0 762.9 L1048.0 765.1 L1048.0 765.1 L1048.0 767.3 L1048.0 767.3 L1048.0 769.5 L1042.8 769.5 L1042.8 771.7 L1042.2 771.7 L1042.2 773.9 L1037.0 773.9 L1037.0 776.1 L1037.0 776.1 L1037.0 778.2 L1042.1 778.2 L1042.1 780.4 L1042.6 780.4 L1042.6 782.6 L1060.0 782.6 L1060.0 784.8" fill="none" stroke="#f00" stroke-width="3.0" stroke-linejoin="miter"/>
<path d="M1092.4 82.7 L1092.4 87.1 L990.6 87.1 L990.6 91.4 L986.5 91.4 L986.5 95.8 L983.9 95.8 L983.9 100.2 L983.6 100.2 L983.6 104.6 L983.4 104.6 L983.4 108.9 L983.1 108.9 L983.1 113.3 L988.2 113.3 L988.2 117.7 L997.3 117.7 L997.3 122.1 L1002.0 122.1 L1002.0 126.4 L1002.0 126.4 L1002.0 130.8 L997.5 130.8 L997.5 135.2 L993.5 135.2 L993.5 139.6 L989.5 139.6 L989.5 143.9 L985.8 143.9 L985.8 148.3 L985.4 148.3 L985.4 152.7 L985.6 152.7 L985.6 157.1 L987.6 157.1 L987.6 161.4 L992.5 161.4 L992.5 165.8 L997.6 165.8 L997.6 170.2 L1003.4 170.2 L1003.4 174.6 L1005.5 174.6 L1005.5 178.9 L1005.2 178.9 L1005.2 183.3 L1004.5 183.3 L1004.5 187.7 L1003.0 187.7 L1003.0 192.1 L1001.6 192.1 L1001.6 196.4 L1000.2 196.4 L1000.2 200.8 L998.9 200.8 L998.9 205.2 L998.5 205.2 L998.5 209.6 L1001.5 209.6 L1001.5 213.9 L1005.6 213.9 L1005.6 218.3 L1010.7 218.3 L1010.7 222.7 L1013.3 222.7 L1013.3 227.1 L1011.9 227.1 L1011.9 231.4 L1010.3 231.4 L1010.3 235.8 L1005.3 235.8 L1005.3 240.2 L1000.4 240.2 L1000.4 244.6 L991.3 244.6 L991.3 248.9 L982.3 248.9 L982.3 253.3 L979.4 253.3 L979.4 257.7 L981.3 257.7 L981.3 262.1 L986.6 262.1 L986.6 266.4 L988.5 266.4 L988.5 270.8 L993.6 270.8 L993.6 275.2 L997.0 275.2 L997.0 279.6 L997.0 279.6 L997.0 283.9 L993.9 283.9 L993.9 288.3 L993.7 288.3 L993.7 292.7 L990.9 292.7 L990.9 297.1 L990.5 297.1 L990.5 301.4 L994.4 301.4 L994.4 305.8 L999.8 305.8 L999.8 310.2 L1004.4 310.2 L1004.4 314.5 L1010.4 314.5 L1010.4 318.9 L1013.7 318.9 L1013.7 323.3 L1014.1 323.3 L1014.1 327.7 L1012.0 327.7 L1012.0 332.0 L1011.7 332.0 L1011.7 336.4 L1007.5 336.4 L1007.5 340.8 L1002.5 340.8 L1002.5 345.2 L997.6 345.2 L997.6 349.5 L988.5 349.5 L988.5 353.9 L973.5 353.9 L973.5 358.3 L952.7 358.3 L952.7 362.7 L938.4 362.7 L938.4 367.0 L938.4 367.0 L938.4 371.4 L944.2 371.4 L944.2 375.8 L948.3 375.8 L948.3 380.2 L958.5 380.2 L958.5 384.5 L975.8 384.5 L975.8 388.9 L998.5 388.9 L998.5 393.3 L1016.6 393.3 L1016.6 397.7 L1017.7 397.7 L1017.7 402.0 L1016.1 402.0 L1016.1 406.4 L1006.4 406.4 L1006.4 410.8 L1000.1 410.8 L1000.1 415.2 L985.9 415.2 L985.9 419.5 L965.8 419.5 L965.8 423.9 L946.5 423.9 L946.5 428.3 L934.4 428.3 L934.4 432.7 L941.5 432.7 L941.5 437.0 L950.5 437.0 L950.5 441.4 L965.5 441.4 L965.5 445.8 L983.5 445.8 L983.5 450.2 L1003.5 450.2 L1003.5 454.5 L1015.0 454.5 L1015.0 458.9 L1014.0 458.9 L1014.0 463.3 L1012.5 463.3 L1012.5 467.7 L1010.6 467.7 L1010.6 472.0 L1009.2 472.0 L1009.2 476.4 L1002.4 476.4 L1002.4 480.8 L993.4 480.8 L993.4 485.2 L988.4 485.2 L988.4 489.5 L983.5 489.5 L983.5 493.9 L973.8 493.9 L973.8 498.3 L969.1 498.3 L969.1 502.7 L969.4 502.7 L969.4 507.0 L977.3 507.0 L977.3 511.4 L987.3 511.4 L987.3 515.8 L1003.4 515.8 L1003.4 520.2 L1015.3 520.2 L1015.3 524.5 L1016.1 524.5 L1016.1 528.9 L1016.4 528.9 L1016.4 533.3 L1016.8 533.3 L1016.8 537.6 L1014.7 537.6 L1014.7 542.0 L1008.1 542.0 L1008.1 546.4 L1001.8 546.4 L1001.8 550.8 L987.5 550.8 L987.5 555.1 L975.8 555.1 L975.8 559.5 L973.0 559.5 L973.0 563.9 L977.3 563.9 L977.3 568.3 L989.4 568.3 L989.4 572.6 L1003.6 572.6 L1003.6 577.0 L1015.6 577.0 L1015.6 581.4 L1019.8 581.4 L1019.8 585.8 L1008.6 585.8 L1008.6 590.1 L996.2 590.1 L996.2 594.5 L983.3 594.5 L983.3 598.9 L979.4 598.9 L979.4 603.3 L983.6 603.3 L983.6 607.6 L992.6 607.6 L992.6 612.0 L1003.6 612.0 L1003.6 616.4 L1011.5 616.4 L1011.5 620.8 L1016.7 620.8 L1016.7 625.1 L1013.8 625.1 L1013.8 629.5 L1009.5 629.5 L1009.5 633.9 L1002.5 633.9 L1002.5 638.3 L994.4 638.3 L994.4 642.6 L983.3 642.6 L983.3 647.0 L968.2 647.0 L968.2 651.4 L962.0 651.4 L962.0 655.8 L962.0 655.8 L962.0 660.1 L975.4 660.1 L975.4 664.5 L993.4 664.5 L993.4 668.9 L1012.4 668.9 L1012.4 673.3 L1034.4 673.3 L1034.4 677.6 L1047.0 677.6 L1047.0 682.0 L1039.8 682.0 L1039.8 686.4 L1025.5 686.4 L1025.5 690.8 L1010.4 690.8 L1010.4 695.1 L999.4 695.1 L999.4 699.5 L987.4 699.5 L987.4 703.9 L976.3 703.9 L976.3 708.3 L972.6 708.3 L972.6 712.6 L973.0 712.6 L973.0 717.0 L978.3 717.0 L978.3 721.4 L982.6 721.4 L982.6 725.8 L986.5 725.8 L986.5 730.1 L989.2 730.1 L989.2 734.5 L996.5 734.5 L996.5 738.9 L1010.5 738.9 L1010.5 743.2 L1028.5 743.2 L1028.5 747.6 L1040.7 747.6 L1040.7 752.0 L1039.6 752.0 L1039.6 756.4 L1037.7 756.4 L1037.7 760.7 L1036.3 760.7 L1036.3 765.1 L1031.3 765.1 L1031.3 769.5 L1027.4 769.5 L1027.4 773.9 L1021.3 773.9 L1021.3 778.2 L1016.8 778.2 L1016.8 782.6 L1016.5 782.6 L1016.5 787.0 L1019.5 787.0 L1019.5 791.4 L1023.4 791.4 L1023.4 795.7 L1027.2 795.7 L1027.2 800.1 L1032.3 800.1 L1032.3 804.5 L1040.6 804.5 L1040.6 808.9 L1047.7 808.9 L1047.7 813.2 L1049.5 813.2 L1049.5 817.6 L1049.2 817.6 L1049.2 822.0 L1048.9 822.0 L1048.9 826.4 L1047.2 826.4 L1047.2 830.7 L1042.5 830.7 L1042.5 835.1 L1035.5 835.1 L1035.5 839.5 L1028.4 839.5 L1028.4 843.9 L1024.3 843.9 L1024.3 848.2 L1022.9 848.2 L1022.9 852.6 L1022.6 852.6 L1022.6 857.0 L1023.0 857.0 L1023.0 861.4 L1026.9 861.4 L1026.9 865.7 L1031.7 865.7 L1031.7 870.1 L1037.7 870.1 L1037.7 874.5 L1044.5 874.5 L1044.5 878.9 L1051.5 878.9 L1051.5 883.2 L1055.4 883.2 L1055.4 887.6 L1058.6 887.6 L1058.6 892.0 L1062.3 892.0 L1062.3 896.4 L1065.1 896.4 L1065.1 900.7 L1066.9 900.7 L1066.9 905.1 L1067.0 905.1 L1067.0 909.5 L1067.0 909.5 L1067.0 913.9 L1064.8 913.9 L1064.8 918.2 L1059.7 918.2 L1059.7 922.6 L1052.6 922.6 L1052.6 927.0 L1045.5 927.0 L1045.5 931.4 L1039.5 931.4 L1039.5 935.7 L1029.4 935.7 L1029.4 940.1 L1015.5 940.1 L1015.5 944.5 L1007.6 944.5 L1007.6 948.9 L1092.0 948.9 L1092.0 953.2 L1092.0 953.2 L1092.0 957.6" fill="none" stroke="#00ff00" stroke-width="3.0" stroke-linejoin="miter"/>
<g><line x1="872.25" y1="192.06" x2="881.25" y2="192.06" stroke="#1a1a1a" stroke-width="2"/><line x1="1107.55" y1="192.06" x2="1116.55" y2="192.06" stroke="#1a1a1a" stroke-width="2"/><line x1="872.25" y1="301.43" x2="881.25" y2="301.43" stroke="#1a1a1a" stroke-width="2"/><line x1="1107.55" y1="301.43" x2="1116.55" y2="301.43" stroke="#1a1a1a" stroke-width="2"/><line x1="872.25" y1="410.79" x2="881.25" y2="410.79" stroke="#1a1a1a" stroke-width="2"/><line x1="1107.55" y1="410.79" x2="1116.55" y2="410.79" stroke="#1a1a1a" stroke-width="2"/><line x1="872.25" y1="520.15" x2="881.25" y2="520.15" stroke="#1a1a1a" stroke-width="2"/><line x1="1107.55" y1="520.15" x2="1116.55" y2="520.15" stroke="#1a1a1a" stroke-width="2"/><line x1="872.25" y1="629.51" x2="881.25" y2="629.51" stroke="#1a1a1a" stroke-width="2"/><line x1="1107.55" y1="629.51" x2="1116.55" y2="629.51" stroke="#1a1a1a" stroke-width="2"/><line x1="872.25" y1="738.88" x2="881.25" y2="738.88" stroke="#1a1a1a" stroke-width="2"/><line x1="1107.55" y1="738.88" x2="1116.55" y2="738.88" stroke="#1a1a1a" stroke-width="2"/><line x1="872.25" y1="848.24" x2="881.25" y2="848.24" stroke="#1a1a1a" stroke-width="2"/><line x1="1107.55" y1="848.24" x2="1116.55" y2="848.24" stroke="#1a1a1a" stroke-width="2"/><line x1="933.33" y1="82.7" x2="933.33" y2="91.7" stroke="#1a1a1a" stroke-width="2"/><line x1="933.33" y1="948.6" x2="933.33" y2="957.6" stroke="#1a1a1a" stroke-width="2"/><line x1="1055.47" y1="82.7" x2="1055.47" y2="91.7" stroke="#1a1a1a" stroke-width="2"/><line x1="1055.47" y1="948.6" x2="1055.47" y2="957.6" stroke="#1a1a1a" stroke-width="2"/></g>
<rect x="872.25" y="82.7" width="244.3" height="874.9" fill="none" stroke="#1a1a1a" stroke-width="2"/>
<text transform="translate(859.95 93.70) scale(0.94 1)" font-size="32" text-anchor="end">800</text>
<text transform="translate(859.95 203.06) scale(0.94 1)" font-size="32" text-anchor="end">850</text>
<text transform="translate(859.95 312.43) scale(0.94 1)" font-size="32" text-anchor="end">900</text>
<text transform="translate(859.95 421.79) scale(0.94 1)" font-size="32" text-anchor="end">950</text>
<text transform="translate(859.95 531.15) scale(0.94 1)" font-size="32" text-anchor="end">1000</text>
<text transform="translate(859.95 640.51) scale(0.94 1)" font-size="32" text-anchor="end">1050</text>
<text transform="translate(859.95 749.88) scale(0.94 1)" font-size="32" text-anchor="end">1100</text>
<text transform="translate(859.95 859.24) scale(0.94 1)" font-size="32" text-anchor="end">1150</text>
<text transform="translate(859.95 968.60) scale(0.94 1)" font-size="32" text-anchor="end">1200</text>
<text transform="translate(933.33 64.4) scale(0.94 1)" font-size="32" text-anchor="middle">2.4</text>
<text transform="translate(1055.47 64.4) scale(0.94 1)" font-size="32" text-anchor="middle">2.6</text>
<text x="994.40" y="26" font-size="34" text-anchor="middle">Density (g/cc)</text>
<text transform="translate(781.75 520.15) rotate(-90)" font-size="34" text-anchor="middle">Time (ms)</text>
<text x="886.8" y="932.8" font-size="40" font-weight="bold" fill="#000">(c)</text>
<g><line x1="1262.62" y1="82.7" x2="1262.62" y2="957.6" stroke="#8a8a8a" stroke-width="1.5" stroke-dasharray="1.5 2.6"/><line x1="1274.83" y1="82.7" x2="1274.83" y2="957.6" stroke="#8a8a8a" stroke-width="1.5" stroke-dasharray="1.5 2.6"/><line x1="1287.05" y1="82.7" x2="1287.05" y2="957.6" stroke="#8a8a8a" stroke-width="1.5" stroke-dasharray="1.5 2.6"/><line x1="1299.26" y1="82.7" x2="1299.26" y2="957.6" stroke="#8a8a8a" stroke-width="1.5" stroke-dasharray="1.5 2.6"/><line x1="1311.48" y1="82.7" x2="1311.48" y2="957.6" stroke="#cbcbcb" stroke-width="1.3"/><line x1="1323.69" y1="82.7" x2="1323.69" y2="957.6" stroke="#8a8a8a" stroke-width="1.5" stroke-dasharray="1.5 2.6"/><line x1="1335.91" y1="82.7" x2="1335.91" y2="957.6" stroke="#8a8a8a" stroke-width="1.5" stroke-dasharray="1.5 2.6"/><line x1="1348.12" y1="82.7" x2="1348.12" y2="957.6" stroke="#8a8a8a" stroke-width="1.5" stroke-dasharray="1.5 2.6"/><line x1="1360.34" y1="82.7" x2="1360.34" y2="957.6" stroke="#8a8a8a" stroke-width="1.5" stroke-dasharray="1.5 2.6"/><line x1="1372.55" y1="82.7" x2="1372.55" y2="957.6" stroke="#8a8a8a" stroke-width="1.5" stroke-dasharray="1.5 2.6"/><line x1="1384.77" y1="82.7" x2="1384.77" y2="957.6" stroke="#8a8a8a" stroke-width="1.5" stroke-dasharray="1.5 2.6"/><line x1="1396.98" y1="82.7" x2="1396.98" y2="957.6" stroke="#8a8a8a" stroke-width="1.5" stroke-dasharray="1.5 2.6"/><line x1="1409.20" y1="82.7" x2="1409.20" y2="957.6" stroke="#8a8a8a" stroke-width="1.5" stroke-dasharray="1.5 2.6"/><line x1="1421.41" y1="82.7" x2="1421.41" y2="957.6" stroke="#8a8a8a" stroke-width="1.5" stroke-dasharray="1.5 2.6"/><line x1="1433.62" y1="82.7" x2="1433.62" y2="957.6" stroke="#cbcbcb" stroke-width="1.3"/><line x1="1445.84" y1="82.7" x2="1445.84" y2="957.6" stroke="#8a8a8a" stroke-width="1.5" stroke-dasharray="1.5 2.6"/><line x1="1458.06" y1="82.7" x2="1458.06" y2="957.6" stroke="#8a8a8a" stroke-width="1.5" stroke-dasharray="1.5 2.6"/><line x1="1470.27" y1="82.7" x2="1470.27" y2="957.6" stroke="#8a8a8a" stroke-width="1.5" stroke-dasharray="1.5 2.6"/><line x1="1482.49" y1="82.7" x2="1482.49" y2="957.6" stroke="#8a8a8a" stroke-width="1.5" stroke-dasharray="1.5 2.6"/><line x1="1251.4" y1="93.64" x2="1494.7" y2="93.64" stroke="#8a8a8a" stroke-width="1.6" stroke-dasharray="1.5 2.58"/><line x1="1251.4" y1="104.57" x2="1494.7" y2="104.57" stroke="#8a8a8a" stroke-width="1.6" stroke-dasharray="1.5 2.58"/><line x1="1251.4" y1="115.51" x2="1494.7" y2="115.51" stroke="#8a8a8a" stroke-width="1.6" stroke-dasharray="1.5 2.58"/><line x1="1251.4" y1="126.44" x2="1494.7" y2="126.44" stroke="#8a8a8a" stroke-width="1.6" stroke-dasharray="1.5 2.58"/><line x1="1251.4" y1="137.38" x2="1494.7" y2="137.38" stroke="#8a8a8a" stroke-width="1.6" stroke-dasharray="1.5 2.58"/><line x1="1251.4" y1="148.32" x2="1494.7" y2="148.32" stroke="#8a8a8a" stroke-width="1.6" stroke-dasharray="1.5 2.58"/><line x1="1251.4" y1="159.25" x2="1494.7" y2="159.25" stroke="#8a8a8a" stroke-width="1.6" stroke-dasharray="1.5 2.58"/><line x1="1251.4" y1="170.19" x2="1494.7" y2="170.19" stroke="#8a8a8a" stroke-width="1.6" stroke-dasharray="1.5 2.58"/><line x1="1251.4" y1="181.13" x2="1494.7" y2="181.13" stroke="#8a8a8a" stroke-width="1.6" stroke-dasharray="1.5 2.58"/><line x1="1250.4" y1="192.06" x2="1494.7" y2="192.06" stroke="#cbcbcb" stroke-width="1.3"/><line x1="1251.4" y1="203.00" x2="1494.7" y2="203.00" stroke="#8a8a8a" stroke-width="1.6" stroke-dasharray="1.5 2.58"/><line x1="1251.4" y1="213.94" x2="1494.7" y2="213.94" stroke="#8a8a8a" stroke-width="1.6" stroke-dasharray="1.5 2.58"/><line x1="1251.4" y1="224.87" x2="1494.7" y2="224.87" stroke="#8a8a8a" stroke-width="1.6" stroke-dasharray="1.5 2.58"/><line x1="1251.4" y1="235.81" x2="1494.7" y2="235.81" stroke="#8a8a8a" stroke-width="1.6" stroke-dasharray="1.5 2.58"/><line x1="1251.4" y1="246.74" x2="1494.7" y2="246.74" stroke="#8a8a8a" stroke-width="1.6" stroke-dasharray="1.5 2.58"/><line x1="1251.4" y1="257.68" x2="1494.7" y2="257.68" stroke="#8a8a8a" stroke-width="1.6" stroke-dasharray="1.5 2.58"/><line x1="1251.4" y1="268.62" x2="1494.7" y2="268.62" stroke="#8a8a8a" stroke-width="1.6" stroke-dasharray="1.5 2.58"/><line x1="1251.4" y1="279.55" x2="1494.7" y2="279.55" stroke="#8a8a8a" stroke-width="1.6" stroke-dasharray="1.5 2.58"/><line x1="1251.4" y1="290.49" x2="1494.7" y2="290.49" stroke="#8a8a8a" stroke-width="1.6" stroke-dasharray="1.5 2.58"/><line x1="1250.4" y1="301.43" x2="1494.7" y2="301.43" stroke="#cbcbcb" stroke-width="1.3"/><line x1="1251.4" y1="312.36" x2="1494.7" y2="312.36" stroke="#8a8a8a" stroke-width="1.6" stroke-dasharray="1.5 2.58"/><line x1="1251.4" y1="323.30" x2="1494.7" y2="323.30" stroke="#8a8a8a" stroke-width="1.6" stroke-dasharray="1.5 2.58"/><line x1="1251.4" y1="334.23" x2="1494.7" y2="334.23" stroke="#8a8a8a" stroke-width="1.6" stroke-dasharray="1.5 2.58"/><line x1="1251.4" y1="345.17" x2="1494.7" y2="345.17" stroke="#8a8a8a" stroke-width="1.6" stroke-dasharray="1.5 2.58"/><line x1="1251.4" y1="356.11" x2="1494.7" y2="356.11" stroke="#8a8a8a" stroke-width="1.6" stroke-dasharray="1.5 2.58"/><line x1="1251.4" y1="367.04" x2="1494.7" y2="367.04" stroke="#8a8a8a" stroke-width="1.6" stroke-dasharray="1.5 2.58"/><line x1="1251.4" y1="377.98" x2="1494.7" y2="377.98" stroke="#8a8a8a" stroke-width="1.6" stroke-dasharray="1.5 2.58"/><line x1="1251.4" y1="388.92" x2="1494.7" y2="388.92" stroke="#8a8a8a" stroke-width="1.6" stroke-dasharray="1.5 2.58"/><line x1="1251.4" y1="399.85" x2="1494.7" y2="399.85" stroke="#8a8a8a" stroke-width="1.6" stroke-dasharray="1.5 2.58"/><line x1="1250.4" y1="410.79" x2="1494.7" y2="410.79" stroke="#cbcbcb" stroke-width="1.3"/><line x1="1251.4" y1="421.72" x2="1494.7" y2="421.72" stroke="#8a8a8a" stroke-width="1.6" stroke-dasharray="1.5 2.58"/><line x1="1251.4" y1="432.66" x2="1494.7" y2="432.66" stroke="#8a8a8a" stroke-width="1.6" stroke-dasharray="1.5 2.58"/><line x1="1251.4" y1="443.60" x2="1494.7" y2="443.60" stroke="#8a8a8a" stroke-width="1.6" stroke-dasharray="1.5 2.58"/><line x1="1251.4" y1="454.53" x2="1494.7" y2="454.53" stroke="#8a8a8a" stroke-width="1.6" stroke-dasharray="1.5 2.58"/><line x1="1251.4" y1="465.47" x2="1494.7" y2="465.47" stroke="#8a8a8a" stroke-width="1.6" stroke-dasharray="1.5 2.58"/><line x1="1251.4" y1="476.40" x2="1494.7" y2="476.40" stroke="#8a8a8a" stroke-width="1.6" stroke-dasharray="1.5 2.58"/><line x1="1251.4" y1="487.34" x2="1494.7" y2="487.34" stroke="#8a8a8a" stroke-width="1.6" stroke-dasharray="1.5 2.58"/><line x1="1251.4" y1="498.28" x2="1494.7" y2="498.28" stroke="#8a8a8a" stroke-width="1.6" stroke-dasharray="1.5 2.58"/><line x1="1251.4" y1="509.21" x2="1494.7" y2="509.21" stroke="#8a8a8a" stroke-width="1.6" stroke-dasharray="1.5 2.58"/><line x1="1250.4" y1="520.15" x2="1494.7" y2="520.15" stroke="#cbcbcb" stroke-width="1.3"/><line x1="1251.4" y1="531.09" x2="1494.7" y2="531.09" stroke="#8a8a8a" stroke-width="1.6" stroke-dasharray="1.5 2.58"/><line x1="1251.4" y1="542.02" x2="1494.7" y2="542.02" stroke="#8a8a8a" stroke-width="1.6" stroke-dasharray="1.5 2.58"/><line x1="1251.4" y1="552.96" x2="1494.7" y2="552.96" stroke="#8a8a8a" stroke-width="1.6" stroke-dasharray="1.5 2.58"/><line x1="1251.4" y1="563.89" x2="1494.7" y2="563.89" stroke="#8a8a8a" stroke-width="1.6" stroke-dasharray="1.5 2.58"/><line x1="1251.4" y1="574.83" x2="1494.7" y2="574.83" stroke="#8a8a8a" stroke-width="1.6" stroke-dasharray="1.5 2.58"/><line x1="1251.4" y1="585.77" x2="1494.7" y2="585.77" stroke="#8a8a8a" stroke-width="1.6" stroke-dasharray="1.5 2.58"/><line x1="1251.4" y1="596.70" x2="1494.7" y2="596.70" stroke="#8a8a8a" stroke-width="1.6" stroke-dasharray="1.5 2.58"/><line x1="1251.4" y1="607.64" x2="1494.7" y2="607.64" stroke="#8a8a8a" stroke-width="1.6" stroke-dasharray="1.5 2.58"/><line x1="1251.4" y1="618.58" x2="1494.7" y2="618.58" stroke="#8a8a8a" stroke-width="1.6" stroke-dasharray="1.5 2.58"/><line x1="1250.4" y1="629.51" x2="1494.7" y2="629.51" stroke="#cbcbcb" stroke-width="1.3"/><line x1="1251.4" y1="640.45" x2="1494.7" y2="640.45" stroke="#8a8a8a" stroke-width="1.6" stroke-dasharray="1.5 2.58"/><line x1="1251.4" y1="651.38" x2="1494.7" y2="651.38" stroke="#8a8a8a" stroke-width="1.6" stroke-dasharray="1.5 2.58"/><line x1="1251.4" y1="662.32" x2="1494.7" y2="662.32" stroke="#8a8a8a" stroke-width="1.6" stroke-dasharray="1.5 2.58"/><line x1="1251.4" y1="673.26" x2="1494.7" y2="673.26" stroke="#8a8a8a" stroke-width="1.6" stroke-dasharray="1.5 2.58"/><line x1="1251.4" y1="684.19" x2="1494.7" y2="684.19" stroke="#8a8a8a" stroke-width="1.6" stroke-dasharray="1.5 2.58"/><line x1="1251.4" y1="695.13" x2="1494.7" y2="695.13" stroke="#8a8a8a" stroke-width="1.6" stroke-dasharray="1.5 2.58"/><line x1="1251.4" y1="706.07" x2="1494.7" y2="706.07" stroke="#8a8a8a" stroke-width="1.6" stroke-dasharray="1.5 2.58"/><line x1="1251.4" y1="717.00" x2="1494.7" y2="717.00" stroke="#8a8a8a" stroke-width="1.6" stroke-dasharray="1.5 2.58"/><line x1="1251.4" y1="727.94" x2="1494.7" y2="727.94" stroke="#8a8a8a" stroke-width="1.6" stroke-dasharray="1.5 2.58"/><line x1="1250.4" y1="738.88" x2="1494.7" y2="738.88" stroke="#cbcbcb" stroke-width="1.3"/><line x1="1251.4" y1="749.81" x2="1494.7" y2="749.81" stroke="#8a8a8a" stroke-width="1.6" stroke-dasharray="1.5 2.58"/><line x1="1251.4" y1="760.75" x2="1494.7" y2="760.75" stroke="#8a8a8a" stroke-width="1.6" stroke-dasharray="1.5 2.58"/><line x1="1251.4" y1="771.68" x2="1494.7" y2="771.68" stroke="#8a8a8a" stroke-width="1.6" stroke-dasharray="1.5 2.58"/><line x1="1251.4" y1="782.62" x2="1494.7" y2="782.62" stroke="#8a8a8a" stroke-width="1.6" stroke-dasharray="1.5 2.58"/><line x1="1251.4" y1="793.56" x2="1494.7" y2="793.56" stroke="#8a8a8a" stroke-width="1.6" stroke-dasharray="1.5 2.58"/><line x1="1251.4" y1="804.49" x2="1494.7" y2="804.49" stroke="#8a8a8a" stroke-width="1.6" stroke-dasharray="1.5 2.58"/><line x1="1251.4" y1="815.43" x2="1494.7" y2="815.43" stroke="#8a8a8a" stroke-width="1.6" stroke-dasharray="1.5 2.58"/><line x1="1251.4" y1="826.37" x2="1494.7" y2="826.37" stroke="#8a8a8a" stroke-width="1.6" stroke-dasharray="1.5 2.58"/><line x1="1251.4" y1="837.30" x2="1494.7" y2="837.30" stroke="#8a8a8a" stroke-width="1.6" stroke-dasharray="1.5 2.58"/><line x1="1250.4" y1="848.24" x2="1494.7" y2="848.24" stroke="#cbcbcb" stroke-width="1.3"/><line x1="1251.4" y1="859.17" x2="1494.7" y2="859.17" stroke="#8a8a8a" stroke-width="1.6" stroke-dasharray="1.5 2.58"/><line x1="1251.4" y1="870.11" x2="1494.7" y2="870.11" stroke="#8a8a8a" stroke-width="1.6" stroke-dasharray="1.5 2.58"/><line x1="1251.4" y1="881.05" x2="1494.7" y2="881.05" stroke="#8a8a8a" stroke-width="1.6" stroke-dasharray="1.5 2.58"/><line x1="1251.4" y1="891.98" x2="1494.7" y2="891.98" stroke="#8a8a8a" stroke-width="1.6" stroke-dasharray="1.5 2.58"/><line x1="1251.4" y1="902.92" x2="1494.7" y2="902.92" stroke="#8a8a8a" stroke-width="1.6" stroke-dasharray="1.5 2.58"/><line x1="1251.4" y1="913.86" x2="1494.7" y2="913.86" stroke="#8a8a8a" stroke-width="1.6" stroke-dasharray="1.5 2.58"/><line x1="1251.4" y1="924.79" x2="1494.7" y2="924.79" stroke="#8a8a8a" stroke-width="1.6" stroke-dasharray="1.5 2.58"/><line x1="1251.4" y1="935.73" x2="1494.7" y2="935.73" stroke="#8a8a8a" stroke-width="1.6" stroke-dasharray="1.5 2.58"/><line x1="1251.4" y1="946.66" x2="1494.7" y2="946.66" stroke="#8a8a8a" stroke-width="1.6" stroke-dasharray="1.5 2.58"/></g>
<rect x="1258" y="898.5" width="53" height="52.2" fill="#fff"/>
<path d="M1400.0 474.2 L1400.0 476.4 L1396.9 476.4 L1396.9 478.6 L1396.8 478.6 L1396.8 480.8 L1396.7 480.8 L1396.7 483.0 L1396.6 483.0 L1396.6 485.2 L1397.0 485.2 L1397.0 487.3 L1397.4 487.3 L1397.4 489.5 L1397.2 489.5 L1397.2 491.7 L1397.0 491.7 L1397.0 493.9 L1393.7 493.9 L1393.7 496.1 L1391.0 496.1 L1391.0 498.3 L1381.6 498.3 L1381.6 500.5 L1381.0 500.5 L1381.0 502.7 L1360.2 502.7 L1360.2 504.8 L1350.7 504.8 L1350.7 507.0 L1337.3 507.0 L1337.3 509.2 L1326.3 509.2 L1326.3 511.4 L1322.6 511.4 L1322.6 513.6 L1322.6 513.6 L1322.6 515.8 L1326.4 515.8 L1326.4 518.0 L1327.3 518.0 L1327.3 520.1 L1351.2 520.2 L1351.2 522.3 L1355.0 522.3 L1355.0 524.5 L1382.4 524.5 L1382.4 526.7 L1390.0 526.7 L1390.0 528.9 L1417.3 528.9 L1417.3 531.1 L1418.8 531.1 L1418.8 533.3 L1422.5 533.3 L1422.5 535.5 L1425.0 535.5 L1425.0 537.6 L1425.0 537.6 L1425.0 539.8 L1403.2 539.8 L1403.2 542.0 L1402.8 542.0 L1402.8 544.2 L1387.8 544.2 L1387.8 546.4 L1366.7 546.4 L1366.7 548.6 L1363.8 548.6 L1363.8 550.8 L1343.3 550.8 L1343.3 553.0 L1343.1 553.0 L1343.1 555.1 L1347.0 555.1 L1347.0 557.3 L1347.2 557.3 L1347.2 559.5 L1354.5 559.5 L1354.5 561.7 L1377.4 561.7 L1377.4 563.9 L1378.0 563.9 L1378.0 566.1 L1412.8 566.1 L1412.8 568.3 L1414.2 568.3 L1414.2 570.5 L1414.6 570.5 L1414.6 572.6 L1430.0 572.6 L1430.0 574.8 L1424.3 574.8 L1424.3 577.0 L1415.3 577.0 L1415.3 579.2 L1402.6 579.2 L1402.6 581.4 L1386.8 581.4 L1386.8 583.6 L1372.9 583.6 L1372.9 585.8 L1357.1 585.8 L1357.1 588.0 L1355.1 588.0 L1355.1 590.1 L1354.1 590.1 L1354.1 592.3 L1354.9 592.3 L1354.9 594.5 L1368.6 594.5 L1368.6 596.7 L1377.4 596.7 L1377.4 598.9 L1380.9 598.9 L1380.9 601.1 L1380.6 601.1 L1380.6 603.3 L1374.4 603.3 L1374.4 605.5 L1365.4 605.5 L1365.4 607.6 L1352.7 607.6 L1352.7 609.8 L1344.9 609.8 L1344.9 612.0 L1336.8 612.0 L1336.8 614.2 L1343.6 614.2 L1343.6 616.4 L1346.6 616.4 L1346.6 618.6 L1379.4 618.6 L1379.4 620.8 L1387.6 620.8 L1387.6 623.0 L1418.0 623.0 L1418.0 625.1 L1420.4 625.1 L1420.4 627.3 L1427.8 627.3 L1427.8 629.5 L1422.2 629.5 L1422.2 631.7 L1397.8 631.7 L1397.8 633.9 L1349.1 633.9 L1349.1 636.1 L1325.5 636.1 L1325.5 638.3 L1310.3 638.3 L1310.3 640.4 L1303.1 640.4 L1303.1 642.6 L1307.1 642.6 L1307.1 644.8 L1325.3 644.8 L1325.3 647.0 L1355.3 647.0 L1355.3 649.2 L1356.5 649.2 L1356.5 651.4 L1362.9 651.4 L1362.9 653.6 L1362.7 653.6 L1362.7 655.8 L1354.5 655.8 L1354.5 657.9 L1344.5 657.9 L1344.5 660.1 L1335.8 660.1 L1335.8 662.3 L1331.6 662.3 L1331.6 664.5 L1331.0 664.5 L1331.0 666.7 L1343.7 666.7 L1343.7 668.9 L1349.7 668.9 L1349.7 671.1 L1369.6 671.1 L1369.6 673.3 L1383.5 673.3 L1383.5 675.4 L1400.8 675.4 L1400.8 677.6 L1415.5 677.6 L1415.5 679.8 L1420.6 679.8 L1420.6 682.0 L1429.0 682.0 L1429.0 684.2 L1429.0 684.2 L1429.0 686.4 L1421.6 686.4 L1421.6 688.6 L1406.4 688.6 L1406.4 690.8 L1398.0 690.8 L1398.0 692.9 L1380.6 692.9 L1380.6 695.1 L1365.6 695.1 L1365.6 697.3 L1345.2 697.3 L1345.2 699.5 L1335.8 699.5 L1335.8 701.7 L1322.4 701.7 L1322.4 703.9 L1316.2 703.9 L1316.2 706.1 L1315.0 706.1 L1315.0 708.3 L1315.2 708.3 L1315.2 710.4 L1320.5 710.4 L1320.5 712.6 L1325.5 712.6 L1325.5 714.8 L1331.8 714.8 L1331.8 717.0 L1341.4 717.0 L1341.4 719.2 L1341.8 719.2 L1341.8 721.4 L1350.6 721.4 L1350.6 723.6 L1350.8 723.6 L1350.8 725.8 L1350.9 725.8 L1350.9 727.9 L1350.9 727.9 L1350.9 730.1 L1348.7 730.1 L1348.7 732.3 L1348.9 732.3 L1348.9 734.5 L1352.6 734.5 L1352.6 736.7 L1355.6 736.7 L1355.6 738.9 L1375.1 738.9 L1375.1 741.1 L1375.8 741.1 L1375.8 743.2 L1402.1 743.2 L1402.1 745.4 L1408.4 745.4 L1408.4 747.6 L1439.0 747.6 L1439.0 749.8 L1443.6 749.8 L1443.6 752.0 L1467.0 752.0 L1467.0 754.2 L1467.6 754.2 L1467.6 756.4 L1474.2 756.4 L1474.2 758.6" fill="none" stroke="#f00" stroke-width="3.0" stroke-linejoin="miter"/>
<path d="M1470.0 82.7 L1470.0 87.1 L1373.4 87.1 L1373.4 91.4 L1375.4 91.4 L1375.4 95.8 L1376.3 95.8 L1376.3 100.2 L1376.4 100.2 L1376.4 104.6 L1376.1 104.6 L1376.1 108.9 L1371.7 108.9 L1371.7 113.3 L1369.5 113.3 L1369.5 117.7 L1366.8 117.7 L1366.8 122.1 L1365.2 122.1 L1365.2 126.4 L1360.4 126.4 L1360.4 130.8 L1354.8 130.8 L1354.8 135.2 L1348.6 135.2 L1348.6 139.6 L1346.0 139.6 L1346.0 143.9 L1346.0 143.9 L1346.0 148.3 L1351.7 148.3 L1351.7 152.7 L1356.7 152.7 L1356.7 157.1 L1358.9 157.1 L1358.9 161.4 L1358.7 161.4 L1358.7 165.8 L1352.4 165.8 L1352.4 170.2 L1348.4 170.2 L1348.4 174.6 L1348.1 174.6 L1348.1 178.9 L1350.5 178.9 L1350.5 183.3 L1353.4 183.3 L1353.4 187.7 L1355.6 187.7 L1355.6 192.1 L1359.4 192.1 L1359.4 196.4 L1363.5 196.4 L1363.5 200.8 L1365.7 200.8 L1365.7 205.2 L1371.6 205.2 L1371.6 209.6 L1371.6 209.6 L1371.6 213.9 L1367.7 213.9 L1367.7 218.3 L1363.7 218.3 L1363.7 222.7 L1361.0 222.7 L1361.0 227.1 L1357.7 227.1 L1357.7 231.4 L1350.5 231.4 L1350.5 235.8 L1341.0 235.8 L1341.0 240.2 L1332.0 240.2 L1332.0 244.6 L1335.2 244.6 L1335.2 248.9 L1344.3 248.9 L1344.3 253.3 L1352.3 253.3 L1352.3 257.7 L1360.4 257.7 L1360.4 262.1 L1367.8 262.1 L1367.8 266.4 L1375.1 266.4 L1375.1 270.8 L1375.2 270.8 L1375.2 275.2 L1371.8 275.2 L1371.8 279.6 L1368.6 279.6 L1368.6 283.9 L1365.5 283.9 L1365.5 288.3 L1359.9 288.3 L1359.9 292.7 L1359.1 292.7 L1359.1 297.1 L1364.3 297.1 L1364.3 301.4 L1374.6 301.4 L1374.6 305.8 L1385.2 305.8 L1385.2 310.2 L1391.0 310.2 L1391.0 314.5 L1391.0 314.5 L1391.0 318.9 L1387.7 318.9 L1387.7 323.3 L1379.5 323.3 L1379.5 327.7 L1371.7 327.7 L1371.7 332.0 L1365.7 332.0 L1365.7 336.4 L1362.5 336.4 L1362.5 340.8 L1357.5 340.8 L1357.5 345.2 L1345.6 345.2 L1345.6 349.5 L1343.1 349.5 L1343.1 353.9 L1335.5 353.9 L1335.5 358.3 L1315.7 358.3 L1315.7 362.7 L1298.8 362.7 L1298.8 367.0 L1294.0 367.0 L1294.0 371.4 L1305.2 371.4 L1305.2 375.8 L1327.5 375.8 L1327.5 380.2 L1352.8 380.2 L1352.8 384.5 L1375.2 384.5 L1375.2 388.9 L1376.3 388.9 L1376.3 393.3 L1365.7 393.3 L1365.7 397.7 L1357.3 397.7 L1357.3 402.0 L1348.7 402.0 L1348.7 406.4 L1345.6 406.4 L1345.6 410.8 L1334.8 410.8 L1334.8 415.2 L1312.6 415.2 L1312.6 419.5 L1317.2 419.5 L1317.2 423.9 L1323.4 423.9 L1323.4 428.3 L1320.3 428.3 L1320.3 432.7 L1317.0 432.7 L1317.0 437.0 L1325.3 437.0 L1325.3 441.4 L1339.6 441.4 L1339.6 445.8 L1357.6 445.8 L1357.6 450.2 L1370.2 450.2 L1370.2 454.5 L1370.5 454.5 L1370.5 458.9 L1372.4 458.9 L1372.4 463.3 L1377.4 463.3 L1377.4 467.7 L1363.4 467.7 L1363.4 472.0 L1374.3 472.0 L1374.3 476.4 L1390.6 476.4 L1390.6 480.8 L1382.8 480.8 L1382.8 485.2 L1368.3 485.2 L1368.3 489.5 L1353.5 489.5 L1353.5 493.9 L1344.3 493.9 L1344.3 498.3 L1342.6 498.3 L1342.6 502.7 L1342.6 502.7 L1342.6 507.0 L1347.3 507.0 L1347.3 511.4 L1354.7 511.4 L1354.7 515.8 L1359.2 515.8 L1359.2 520.2 L1375.5 520.2 L1375.5 524.5 L1391.6 524.5 L1391.6 528.9 L1396.6 528.9 L1396.6 533.3 L1392.8 533.3 L1392.8 537.6 L1384.5 537.6 L1384.5 542.0 L1372.4 542.0 L1372.4 546.4 L1361.6 546.4 L1361.6 550.8 L1363.2 550.8 L1363.2 555.1 L1366.2 555.1 L1366.2 559.5 L1375.2 559.5 L1375.2 563.9 L1380.1 563.9 L1380.1 568.3 L1383.1 568.3 L1383.1 572.6 L1384.4 572.6 L1384.4 577.0 L1390.5 577.0 L1390.5 581.4 L1391.9 581.4 L1391.9 585.8 L1387.6 585.8 L1387.6 590.1 L1379.3 590.1 L1379.3 594.5 L1368.3 594.5 L1368.3 598.9 L1361.2 598.9 L1361.2 603.3 L1360.7 603.3 L1360.7 607.6 L1367.7 607.6 L1367.7 612.0 L1382.3 612.0 L1382.3 616.4 L1387.0 616.4 L1387.0 620.8 L1387.0 620.8 L1387.0 625.1 L1372.4 625.1 L1372.4 629.5 L1350.5 629.5 L1350.5 633.9 L1335.7 633.9 L1335.7 638.3 L1332.6 638.3 L1332.6 642.6 L1346.4 642.6 L1346.4 647.0 L1357.5 647.0 L1357.5 651.4 L1360.6 651.4 L1360.6 655.8 L1353.4 655.8 L1353.4 660.1 L1340.2 660.1 L1340.2 664.5 L1336.0 664.5 L1336.0 668.9 L1369.2 668.9 L1369.2 673.3 L1401.2 673.3 L1401.2 677.6 L1414.3 677.6 L1414.3 682.0 L1414.3 682.0 L1414.3 686.4 L1413.6 686.4 L1413.6 690.8 L1395.4 690.8 L1395.4 695.1 L1374.8 695.1 L1374.8 699.5 L1352.4 699.5 L1352.4 703.9 L1341.0 703.9 L1341.0 708.3 L1346.3 708.3 L1346.3 712.6 L1362.3 712.6 L1362.3 717.0 L1377.4 717.0 L1377.4 721.4 L1385.2 721.4 L1385.2 725.8 L1384.7 725.8 L1384.7 730.1 L1377.7 730.1 L1377.7 734.5 L1380.3 734.5 L1380.3 738.9 L1392.3 738.9 L1392.3 743.2 L1400.7 743.2 L1400.7 747.6 L1404.7 747.6 L1404.7 752.0 L1407.5 752.0 L1407.5 756.4 L1408.2 756.4 L1408.2 760.7 L1408.5 760.7 L1408.5 765.1 L1407.3 765.1 L1407.3 769.5 L1406.1 769.5 L1406.1 773.9 L1405.3 773.9 L1405.3 778.2 L1409.1 778.2 L1409.1 782.6 L1414.9 782.6 L1414.9 787.0 L1418.0 787.0 L1418.0 791.4 L1418.0 791.4 L1418.0 795.7 L1417.3 795.7 L1417.3 800.1 L1413.7 800.1 L1413.7 804.5 L1409.8 804.5 L1409.8 808.9 L1408.6 808.9 L1408.6 813.2 L1407.8 813.2 L1407.8 817.6 L1407.3 817.6 L1407.3 822.0 L1406.9 822.0 L1406.9 826.4 L1406.6 826.4 L1406.6 830.7 L1408.2 830.7 L1408.2 835.1 L1408.5 835.1 L1408.5 839.5 L1407.9 839.5 L1407.9 843.9 L1407.0 843.9 L1407.0 848.2 L1405.8 848.2 L1405.8 852.6 L1405.3 852.6 L1405.3 857.0 L1405.1 857.0 L1405.1 861.4 L1405.2 861.4 L1405.2 865.7 L1405.3 865.7 L1405.3 870.1 L1405.6 870.1 L1405.6 874.5 L1406.1 874.5 L1406.1 878.9 L1406.6 878.9 L1406.6 883.2 L1407.6 883.2 L1407.6 887.6 L1408.3 887.6 L1408.3 892.0 L1408.7 892.0 L1408.7 896.4 L1416.3 896.4 L1416.3 900.7 L1426.3 900.7 L1426.3 905.1 L1433.3 905.1 L1433.3 909.5 L1434.8 909.5 L1434.8 913.9 L1429.7 913.9 L1429.7 918.2 L1421.7 918.2 L1421.7 922.6 L1413.5 922.6 L1413.5 927.0 L1404.5 927.0 L1404.5 931.4 L1396.5 931.4 L1396.5 935.7 L1385.5 935.7 L1385.5 940.1 L1369.2 940.1 L1369.2 944.5 L1358.0 944.5 L1358.0 948.9 L1470.0 948.9 L1470.0 953.2 L1470.0 953.2 L1470.0 957.6" fill="none" stroke="#00ff00" stroke-width="3.0" stroke-linejoin="miter"/>
<g><line x1="1250.4" y1="192.06" x2="1259.4" y2="192.06" stroke="#1a1a1a" stroke-width="2"/><line x1="1485.7" y1="192.06" x2="1494.7" y2="192.06" stroke="#1a1a1a" stroke-width="2"/><line x1="1250.4" y1="301.43" x2="1259.4" y2="301.43" stroke="#1a1a1a" stroke-width="2"/><line x1="1485.7" y1="301.43" x2="1494.7" y2="301.43" stroke="#1a1a1a" stroke-width="2"/><line x1="1250.4" y1="410.79" x2="1259.4" y2="410.79" stroke="#1a1a1a" stroke-width="2"/><line x1="1485.7" y1="410.79" x2="1494.7" y2="410.79" stroke="#1a1a1a" stroke-width="2"/><line x1="1250.4" y1="520.15" x2="1259.4" y2="520.15" stroke="#1a1a1a" stroke-width="2"/><line x1="1485.7" y1="520.15" x2="1494.7" y2="520.15" stroke="#1a1a1a" stroke-width="2"/><line x1="1250.4" y1="629.51" x2="1259.4" y2="629.51" stroke="#1a1a1a" stroke-width="2"/><line x1="1485.7" y1="629.51" x2="1494.7" y2="629.51" stroke="#1a1a1a" stroke-width="2"/><line x1="1250.4" y1="738.88" x2="1259.4" y2="738.88" stroke="#1a1a1a" stroke-width="2"/><line x1="1485.7" y1="738.88" x2="1494.7" y2="738.88" stroke="#1a1a1a" stroke-width="2"/><line x1="1250.4" y1="848.24" x2="1259.4" y2="848.24" stroke="#1a1a1a" stroke-width="2"/><line x1="1485.7" y1="848.24" x2="1494.7" y2="848.24" stroke="#1a1a1a" stroke-width="2"/><line x1="1311.48" y1="82.7" x2="1311.48" y2="91.7" stroke="#1a1a1a" stroke-width="2"/><line x1="1311.48" y1="948.6" x2="1311.48" y2="957.6" stroke="#1a1a1a" stroke-width="2"/><line x1="1433.62" y1="82.7" x2="1433.62" y2="91.7" stroke="#1a1a1a" stroke-width="2"/><line x1="1433.62" y1="948.6" x2="1433.62" y2="957.6" stroke="#1a1a1a" stroke-width="2"/></g>
<rect x="1250.4" y="82.7" width="244.3" height="874.9" fill="none" stroke="#1a1a1a" stroke-width="2"/>
<text transform="translate(1238.10 93.70) scale(0.94 1)" font-size="32" text-anchor="end">800</text>
<text transform="translate(1238.10 203.06) scale(0.94 1)" font-size="32" text-anchor="end">850</text>
<text transform="translate(1238.10 312.43) scale(0.94 1)" font-size="32" text-anchor="end">900</text>
<text transform="translate(1238.10 421.79) scale(0.94 1)" font-size="32" text-anchor="end">950</text>
<text transform="translate(1238.10 531.15) scale(0.94 1)" font-size="32" text-anchor="end">1000</text>
<text transform="translate(1238.10 640.51) scale(0.94 1)" font-size="32" text-anchor="end">1050</text>
<text transform="translate(1238.10 749.88) scale(0.94 1)" font-size="32" text-anchor="end">1100</text>
<text transform="translate(1238.10 859.24) scale(0.94 1)" font-size="32" text-anchor="end">1150</text>
<text transform="translate(1238.10 968.60) scale(0.94 1)" font-size="32" text-anchor="end">1200</text>
<text transform="translate(1311.48 64.4) scale(0.94 1)" font-size="32" text-anchor="middle">2.4</text>
<text transform="translate(1433.62 64.4) scale(0.94 1)" font-size="32" text-anchor="middle">2.6</text>
<text x="1372.55" y="26" font-size="34" text-anchor="middle">Density (g/cc)</text>
<text transform="translate(1159.90 520.15) rotate(-90)" font-size="34" text-anchor="middle">Time (ms)</text>
<text x="1260.3" y="934.8" font-size="40" font-weight="bold" fill="#000">(d)</text>
<line x1="120" y1="994" x2="213" y2="994" stroke="#000" stroke-width="2.2"/>
<text x="224" y="1004.6" font-size="28.2">Well porosity</text>
<line x1="408" y1="994" x2="500.5" y2="994" stroke="#0000ff" stroke-width="2.2"/>
<text x="510.5" y="1004.6" font-size="28.2">Predicted porosity</text>
<line x1="879" y1="994" x2="976" y2="994" stroke="#f00" stroke-width="2.2"/>
<text x="988.5" y="1004.6" font-size="28.2">Well density</text>
<line x1="1167" y1="994" x2="1264.5" y2="994" stroke="#00ff00" stroke-width="2.2"/>
<text x="1276" y="1004.6" font-size="28.2">Predicted density</text>
</svg></body></html>
